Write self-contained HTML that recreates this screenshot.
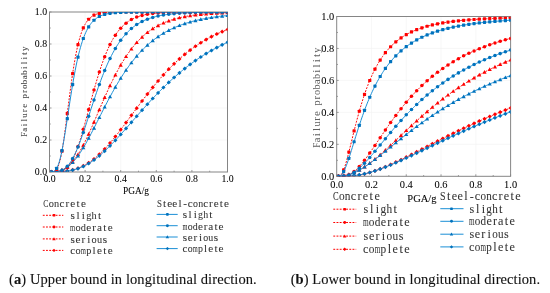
<!DOCTYPE html>
<html><head><meta charset="utf-8"><style>
html,body{margin:0;padding:0;background:#fff;}
body{width:550px;height:293px;overflow:hidden;position:relative;}
svg{position:absolute;left:0;top:0;}
.tk{font-family:"Liberation Serif",serif;fill:#000;stroke:#000;stroke-width:0.05;}
.lg{font-family:"Liberation Serif",serif;fill:#333;stroke:#333;stroke-width:0.06;}
.cap{font-family:"Liberation Serif",serif;font-size:14.5px;fill:#111;stroke:#111;stroke-width:0.1;}
.yl{font-family:"Liberation Serif",serif;fill:#4a4a4a;stroke:#4a4a4a;stroke-width:0.06;}
.yl2{font-family:"Liberation Serif",serif;fill:#606060;}
</style></head><body>
<svg width="550" height="293" viewBox="0 0 550 293">
<line x1="85.10" y1="12.0" x2="85.10" y2="172.0" stroke="#f2f2f2" stroke-width="0.6"/>
<line x1="49.5" y1="140.00" x2="227.5" y2="140.00" stroke="#f2f2f2" stroke-width="0.6"/>
<line x1="120.70" y1="12.0" x2="120.70" y2="172.0" stroke="#f2f2f2" stroke-width="0.6"/>
<line x1="49.5" y1="108.00" x2="227.5" y2="108.00" stroke="#f2f2f2" stroke-width="0.6"/>
<line x1="156.30" y1="12.0" x2="156.30" y2="172.0" stroke="#f2f2f2" stroke-width="0.6"/>
<line x1="49.5" y1="76.00" x2="227.5" y2="76.00" stroke="#f2f2f2" stroke-width="0.6"/>
<line x1="191.90" y1="12.0" x2="191.90" y2="172.0" stroke="#f2f2f2" stroke-width="0.6"/>
<line x1="49.5" y1="44.00" x2="227.5" y2="44.00" stroke="#f2f2f2" stroke-width="0.6"/>
<rect x="49.5" y="12.0" width="178.00" height="160.00" fill="none" stroke="#858585" stroke-width="1"/>
<clipPath id="c49"><rect x="49.5" y="12.0" width="178.00" height="160.00"/></clipPath><g clip-path="url(#c49)">
<polyline points="51.28,171.95 52.17,171.93 53.05,171.92 53.94,171.90 54.82,171.88 55.71,171.85 56.59,171.82 57.48,171.79 58.36,171.75 59.25,171.70 60.14,171.65 61.02,171.59 61.91,171.52 62.79,171.45 63.68,171.36 64.56,171.27 65.45,171.17 66.33,171.05 67.22,170.93 68.11,170.79 68.99,170.64 69.88,170.48 70.76,170.30 71.65,170.11 72.53,169.90 73.42,169.68 74.30,169.44 75.19,169.18 76.07,168.91 76.96,168.62 77.85,168.30 78.73,167.97 79.62,167.62 80.50,167.25 81.39,166.86 82.27,166.45 83.16,166.02 84.04,165.57 84.93,165.10 85.82,164.60 86.70,164.08 87.59,163.54 88.47,162.98 89.36,162.40 90.24,161.79 91.13,161.17 92.01,160.52 92.90,159.85 93.79,159.16 94.67,158.44 95.56,157.71 96.44,156.95 97.33,156.17 98.21,155.38 99.10,154.56 99.98,153.72 100.87,152.87 101.76,151.99 102.64,151.10 103.53,150.19 104.41,149.26 105.30,148.31 106.18,147.35 107.07,146.37 107.95,145.38 108.84,144.37 109.72,143.34 110.61,142.30 111.50,141.25 112.38,140.19 113.27,139.11 114.15,138.02 115.04,136.92 115.92,135.81 116.81,134.70 117.69,133.57 118.58,132.43 119.47,131.28 120.35,130.13 121.24,128.97 122.12,127.80 123.01,126.63 123.89,125.45 124.78,124.27 125.66,123.09 126.55,121.90 127.44,120.70 128.32,119.51 129.21,118.31 130.09,117.11 130.98,115.92 131.86,114.72 132.75,113.52 133.63,112.32 134.52,111.12 135.41,109.93 136.29,108.73 137.18,107.54 138.06,106.35 138.95,105.17 139.83,103.98 140.72,102.81 141.60,101.63 142.49,100.46 143.37,99.30 144.26,98.14 145.15,96.99 146.03,95.84 146.92,94.70 147.80,93.57 148.69,92.44 149.57,91.32 150.46,90.21 151.34,89.11 152.23,88.01 153.12,86.92 154.00,85.84 154.89,84.77 155.77,83.71 156.66,82.65 157.54,81.61 158.43,80.57 159.31,79.55 160.20,78.53 161.09,77.52 161.97,76.52 162.86,75.53 163.74,74.56 164.63,73.59 165.51,72.63 166.40,71.68 167.28,70.74 168.17,69.82 169.06,68.90 169.94,67.99 170.83,67.09 171.71,66.21 172.60,65.33 173.48,64.47 174.37,63.61 175.25,62.77 176.14,61.93 177.02,61.11 177.91,60.30 178.80,59.49 179.68,58.70 180.57,57.92 181.45,57.15 182.34,56.38 183.22,55.63 184.11,54.89 184.99,54.16 185.88,53.44 186.77,52.73 187.65,52.03 188.54,51.34 189.42,50.66 190.31,49.98 191.19,49.32 192.08,48.67 192.96,48.03 193.85,47.40 194.74,46.77 195.62,46.16 196.51,45.55 197.39,44.96 198.28,44.37 199.16,43.80 200.05,43.23 200.93,42.67 201.82,42.12 202.71,41.57 203.59,41.04 204.48,40.52 205.36,40.00 206.25,39.49 207.13,38.99 208.02,38.50 208.90,38.01 209.79,37.54 210.67,37.07 211.56,36.61 212.45,36.16 213.33,35.71 214.22,35.27 215.10,34.84 215.99,34.42 216.87,34.00 217.76,33.59 218.64,33.19 219.53,32.80 220.42,32.41 221.30,32.03 222.19,31.65 223.07,31.28 223.96,30.92 224.84,30.57 225.73,30.22 226.61,29.87 227.50,29.53" fill="none" stroke="#ff0000" stroke-width="1.0" stroke-dasharray="1.9 1.3"/>
<path d="M51.28 169.86L53.37 171.95L51.28 174.04L49.19 171.95Z" fill="#ff0000"/>
<path d="M56.62 169.73L58.71 171.82L56.62 173.91L54.53 171.82Z" fill="#ff0000"/>
<path d="M61.96 169.43L64.05 171.52L61.96 173.61L59.87 171.52Z" fill="#ff0000"/>
<path d="M67.30 168.83L69.39 170.92L67.30 173.01L65.21 170.92Z" fill="#ff0000"/>
<path d="M72.64 167.79L74.73 169.88L72.64 171.97L70.55 169.88Z" fill="#ff0000"/>
<path d="M77.98 166.17L80.07 168.26L77.98 170.35L75.89 168.26Z" fill="#ff0000"/>
<path d="M83.32 163.85L85.41 165.94L83.32 168.03L81.23 165.94Z" fill="#ff0000"/>
<path d="M88.66 160.77L90.75 162.86L88.66 164.95L86.57 162.86Z" fill="#ff0000"/>
<path d="M94.00 156.89L96.09 158.98L94.00 161.07L91.91 158.98Z" fill="#ff0000"/>
<path d="M99.34 152.25L101.43 154.34L99.34 156.43L97.25 154.34Z" fill="#ff0000"/>
<path d="M104.68 146.88L106.77 148.97L104.68 151.06L102.59 148.97Z" fill="#ff0000"/>
<path d="M110.02 140.91L112.11 143.00L110.02 145.09L107.93 143.00Z" fill="#ff0000"/>
<path d="M115.36 134.43L117.45 136.52L115.36 138.61L113.27 136.52Z" fill="#ff0000"/>
<path d="M120.70 127.58L122.79 129.67L120.70 131.76L118.61 129.67Z" fill="#ff0000"/>
<path d="M126.04 120.49L128.13 122.58L126.04 124.67L123.95 122.58Z" fill="#ff0000"/>
<path d="M131.38 113.28L133.47 115.37L131.38 117.46L129.29 115.37Z" fill="#ff0000"/>
<path d="M136.72 106.06L138.81 108.15L136.72 110.24L134.63 108.15Z" fill="#ff0000"/>
<path d="M142.06 98.94L144.15 101.03L142.06 103.12L139.97 101.03Z" fill="#ff0000"/>
<path d="M147.40 91.99L149.49 94.08L147.40 96.17L145.31 94.08Z" fill="#ff0000"/>
<path d="M152.74 85.29L154.83 87.38L152.74 89.47L150.65 87.38Z" fill="#ff0000"/>
<path d="M158.08 78.89L160.17 80.98L158.08 83.07L155.99 80.98Z" fill="#ff0000"/>
<path d="M163.42 72.82L165.51 74.91L163.42 77.00L161.33 74.91Z" fill="#ff0000"/>
<path d="M168.76 67.11L170.85 69.20L168.76 71.29L166.67 69.20Z" fill="#ff0000"/>
<path d="M174.10 61.78L176.19 63.87L174.10 65.96L172.01 63.87Z" fill="#ff0000"/>
<path d="M179.44 56.83L181.53 58.92L179.44 61.01L177.35 58.92Z" fill="#ff0000"/>
<path d="M184.78 52.25L186.87 54.34L184.78 56.43L182.69 54.34Z" fill="#ff0000"/>
<path d="M190.12 48.04L192.21 50.13L190.12 52.22L188.03 50.13Z" fill="#ff0000"/>
<path d="M195.46 44.18L197.55 46.27L195.46 48.36L193.37 46.27Z" fill="#ff0000"/>
<path d="M200.80 40.66L202.89 42.75L200.80 44.84L198.71 42.75Z" fill="#ff0000"/>
<path d="M206.14 37.46L208.23 39.55L206.14 41.64L204.05 39.55Z" fill="#ff0000"/>
<path d="M211.48 34.56L213.57 36.65L211.48 38.74L209.39 36.65Z" fill="#ff0000"/>
<path d="M216.82 31.94L218.91 34.03L216.82 36.12L214.73 34.03Z" fill="#ff0000"/>
<path d="M222.16 29.57L224.25 31.66L222.16 33.75L220.07 31.66Z" fill="#ff0000"/>
<path d="M227.50 27.44L229.59 29.53L227.50 31.62L225.41 29.53Z" fill="#ff0000"/>
<polyline points="51.28,171.98 52.17,171.97 53.05,171.96 53.94,171.95 54.82,171.94 55.71,171.92 56.59,171.90 57.48,171.87 58.36,171.84 59.25,171.80 60.14,171.76 61.02,171.71 61.91,171.65 62.79,171.59 63.68,171.51 64.56,171.43 65.45,171.34 66.33,171.23 67.22,171.12 68.11,170.99 68.99,170.85 69.88,170.69 70.76,170.53 71.65,170.35 72.53,170.15 73.42,169.94 74.30,169.71 75.19,169.46 76.07,169.20 76.96,168.92 77.85,168.63 78.73,168.31 79.62,167.98 80.50,167.63 81.39,167.26 82.27,166.87 83.16,166.47 84.04,166.04 84.93,165.60 85.82,165.13 86.70,164.65 87.59,164.15 88.47,163.63 89.36,163.09 90.24,162.54 91.13,161.96 92.01,161.37 92.90,160.76 93.79,160.13 94.67,159.48 95.56,158.82 96.44,158.14 97.33,157.44 98.21,156.73 99.10,156.00 99.98,155.26 100.87,154.50 101.76,153.72 102.64,152.93 103.53,152.13 104.41,151.32 105.30,150.49 106.18,149.65 107.07,148.79 107.95,147.93 108.84,147.05 109.72,146.17 110.61,145.27 111.50,144.36 112.38,143.45 113.27,142.52 114.15,141.59 115.04,140.65 115.92,139.70 116.81,138.74 117.69,137.78 118.58,136.81 119.47,135.83 120.35,134.85 121.24,133.87 122.12,132.88 123.01,131.88 123.89,130.89 124.78,129.88 125.66,128.88 126.55,127.87 127.44,126.87 128.32,125.86 129.21,124.84 130.09,123.83 130.98,122.82 131.86,121.80 132.75,120.79 133.63,119.77 134.52,118.76 135.41,117.75 136.29,116.74 137.18,115.73 138.06,114.72 138.95,113.71 139.83,112.71 140.72,111.71 141.60,110.71 142.49,109.72 143.37,108.72 144.26,107.73 145.15,106.75 146.03,105.77 146.92,104.79 147.80,103.82 148.69,102.85 149.57,101.89 150.46,100.93 151.34,99.97 152.23,99.02 153.12,98.08 154.00,97.14 154.89,96.21 155.77,95.28 156.66,94.36 157.54,93.44 158.43,92.53 159.31,91.63 160.20,90.73 161.09,89.84 161.97,88.96 162.86,88.08 163.74,87.21 164.63,86.34 165.51,85.49 166.40,84.63 167.28,83.79 168.17,82.95 169.06,82.12 169.94,81.30 170.83,80.48 171.71,79.67 172.60,78.86 173.48,78.07 174.37,77.28 175.25,76.50 176.14,75.72 177.02,74.95 177.91,74.19 178.80,73.44 179.68,72.69 180.57,71.95 181.45,71.22 182.34,70.50 183.22,69.78 184.11,69.07 184.99,68.37 185.88,67.67 186.77,66.98 187.65,66.30 188.54,65.62 189.42,64.95 190.31,64.29 191.19,63.64 192.08,62.99 192.96,62.35 193.85,61.72 194.74,61.09 195.62,60.47 196.51,59.86 197.39,59.25 198.28,58.65 199.16,58.06 200.05,57.47 200.93,56.89 201.82,56.32 202.71,55.75 203.59,55.19 204.48,54.64 205.36,54.09 206.25,53.55 207.13,53.02 208.02,52.49 208.90,51.97 209.79,51.45 210.67,50.94 211.56,50.44 212.45,49.94 213.33,49.45 214.22,48.96 215.10,48.48 215.99,48.00 216.87,47.54 217.76,47.07 218.64,46.61 219.53,46.16 220.42,45.72 221.30,45.28 222.19,44.84 223.07,44.41 223.96,43.98 224.84,43.57 225.73,43.15 226.61,42.74 227.50,42.34" fill="none" stroke="#1b8fd6" stroke-width="1.0"/>
<path d="M51.28 169.89L53.37 171.98L51.28 174.07L49.19 171.98Z" fill="#0072bd"/>
<path d="M56.62 169.81L58.71 171.90L56.62 173.99L54.53 171.90Z" fill="#0072bd"/>
<path d="M61.96 169.56L64.05 171.65L61.96 173.74L59.87 171.65Z" fill="#0072bd"/>
<path d="M67.30 169.02L69.39 171.11L67.30 173.20L65.21 171.11Z" fill="#0072bd"/>
<path d="M72.64 168.03L74.73 170.12L72.64 172.21L70.55 170.12Z" fill="#0072bd"/>
<path d="M77.98 166.49L80.07 168.58L77.98 170.67L75.89 168.58Z" fill="#0072bd"/>
<path d="M83.32 164.30L85.41 166.39L83.32 168.48L81.23 166.39Z" fill="#0072bd"/>
<path d="M88.66 161.43L90.75 163.52L88.66 165.61L86.57 163.52Z" fill="#0072bd"/>
<path d="M94.00 157.88L96.09 159.97L94.00 162.06L91.91 159.97Z" fill="#0072bd"/>
<path d="M99.34 153.71L101.43 155.80L99.34 157.89L97.25 155.80Z" fill="#0072bd"/>
<path d="M104.68 148.98L106.77 151.07L104.68 153.16L102.59 151.07Z" fill="#0072bd"/>
<path d="M110.02 143.78L112.11 145.87L110.02 147.96L107.93 145.87Z" fill="#0072bd"/>
<path d="M115.36 138.21L117.45 140.30L115.36 142.39L113.27 140.30Z" fill="#0072bd"/>
<path d="M120.70 132.37L122.79 134.46L120.70 136.55L118.61 134.46Z" fill="#0072bd"/>
<path d="M126.04 126.36L128.13 128.45L126.04 130.54L123.95 128.45Z" fill="#0072bd"/>
<path d="M131.38 120.27L133.47 122.36L131.38 124.45L129.29 122.36Z" fill="#0072bd"/>
<path d="M136.72 114.16L138.81 116.25L136.72 118.34L134.63 116.25Z" fill="#0072bd"/>
<path d="M142.06 108.11L144.15 110.20L142.06 112.29L139.97 110.20Z" fill="#0072bd"/>
<path d="M147.40 102.17L149.49 104.26L147.40 106.35L145.31 104.26Z" fill="#0072bd"/>
<path d="M152.74 96.39L154.83 98.48L152.74 100.57L150.65 98.48Z" fill="#0072bd"/>
<path d="M158.08 90.80L160.17 92.89L158.08 94.98L155.99 92.89Z" fill="#0072bd"/>
<path d="M163.42 85.43L165.51 87.52L163.42 89.61L161.33 87.52Z" fill="#0072bd"/>
<path d="M168.76 80.31L170.85 82.40L168.76 84.49L166.67 82.40Z" fill="#0072bd"/>
<path d="M174.10 75.43L176.19 77.52L174.10 79.61L172.01 77.52Z" fill="#0072bd"/>
<path d="M179.44 70.81L181.53 72.90L179.44 74.99L177.35 72.90Z" fill="#0072bd"/>
<path d="M184.78 66.45L186.87 68.54L184.78 70.63L182.69 68.54Z" fill="#0072bd"/>
<path d="M190.12 62.34L192.21 64.43L190.12 66.52L188.03 64.43Z" fill="#0072bd"/>
<path d="M195.46 58.49L197.55 60.58L195.46 62.67L193.37 60.58Z" fill="#0072bd"/>
<path d="M200.80 54.89L202.89 56.98L200.80 59.07L198.71 56.98Z" fill="#0072bd"/>
<path d="M206.14 51.53L208.23 53.62L206.14 55.71L204.05 53.62Z" fill="#0072bd"/>
<path d="M211.48 48.39L213.57 50.48L211.48 52.57L209.39 50.48Z" fill="#0072bd"/>
<path d="M216.82 45.47L218.91 47.56L216.82 49.65L214.73 47.56Z" fill="#0072bd"/>
<path d="M222.16 42.76L224.25 44.85L222.16 46.94L220.07 44.85Z" fill="#0072bd"/>
<path d="M227.50 40.25L229.59 42.34L227.50 44.43L225.41 42.34Z" fill="#0072bd"/>
<polyline points="51.28,171.87 52.17,171.82 53.05,171.76 53.94,171.69 54.82,171.60 55.71,171.49 56.59,171.35 57.48,171.20 58.36,171.01 59.25,170.79 60.14,170.54 61.02,170.25 61.91,169.92 62.79,169.55 63.68,169.13 64.56,168.66 65.45,168.14 66.33,167.57 67.22,166.94 68.11,166.26 68.99,165.51 69.88,164.71 70.76,163.84 71.65,162.92 72.53,161.93 73.42,160.87 74.30,159.76 75.19,158.58 76.07,157.35 76.96,156.05 77.85,154.69 78.73,153.28 79.62,151.81 80.50,150.28 81.39,148.70 82.27,147.08 83.16,145.40 84.04,143.68 84.93,141.92 85.82,140.12 86.70,138.28 87.59,136.41 88.47,134.50 89.36,132.57 90.24,130.61 91.13,128.63 92.01,126.62 92.90,124.60 93.79,122.57 94.67,120.53 95.56,118.47 96.44,116.41 97.33,114.35 98.21,112.28 99.10,110.22 99.98,108.16 100.87,106.11 101.76,104.06 102.64,102.03 103.53,100.01 104.41,98.00 105.30,96.00 106.18,94.03 107.07,92.07 107.95,90.13 108.84,88.22 109.72,86.33 110.61,84.46 111.50,82.62 112.38,80.80 113.27,79.01 114.15,77.25 115.04,75.51 115.92,73.81 116.81,72.13 117.69,70.49 118.58,68.87 119.47,67.29 120.35,65.74 121.24,64.21 122.12,62.72 123.01,61.26 123.89,59.83 124.78,58.44 125.66,57.07 126.55,55.73 127.44,54.43 128.32,53.16 129.21,51.91 130.09,50.70 130.98,49.52 131.86,48.37 132.75,47.24 133.63,46.15 134.52,45.08 135.41,44.04 136.29,43.03 137.18,42.05 138.06,41.10 138.95,40.17 139.83,39.26 140.72,38.38 141.60,37.53 142.49,36.70 143.37,35.89 144.26,35.11 145.15,34.35 146.03,33.62 146.92,32.90 147.80,32.21 148.69,31.54 149.57,30.88 150.46,30.25 151.34,29.64 152.23,29.05 153.12,28.47 154.00,27.91 154.89,27.37 155.77,26.85 156.66,26.34 157.54,25.85 158.43,25.38 159.31,24.92 160.20,24.48 161.09,24.05 161.97,23.63 162.86,23.23 163.74,22.84 164.63,22.46 165.51,22.10 166.40,21.75 167.28,21.41 168.17,21.08 169.06,20.76 169.94,20.46 170.83,20.16 171.71,19.87 172.60,19.60 173.48,19.33 174.37,19.07 175.25,18.82 176.14,18.58 177.02,18.35 177.91,18.12 178.80,17.91 179.68,17.70 180.57,17.49 181.45,17.30 182.34,17.11 183.22,16.93 184.11,16.75 184.99,16.58 185.88,16.42 186.77,16.26 187.65,16.11 188.54,15.96 189.42,15.82 190.31,15.69 191.19,15.55 192.08,15.43 192.96,15.30 193.85,15.19 194.74,15.07 195.62,14.96 196.51,14.86 197.39,14.75 198.28,14.66 199.16,14.56 200.05,14.47 200.93,14.38 201.82,14.29 202.71,14.21 203.59,14.13 204.48,14.06 205.36,13.98 206.25,13.91 207.13,13.84 208.02,13.78 208.90,13.71 209.79,13.65 210.67,13.59 211.56,13.53 212.45,13.48 213.33,13.43 214.22,13.38 215.10,13.33 215.99,13.28 216.87,13.23 217.76,13.19 218.64,13.15 219.53,13.10 220.42,13.07 221.30,13.03 222.19,12.99 223.07,12.95 223.96,12.92 224.84,12.89 225.73,12.86 226.61,12.83 227.50,12.80" fill="none" stroke="#ff0000" stroke-width="1.0" stroke-dasharray="1.9 1.3"/>
<path d="M51.28 169.78L53.37 173.43L49.19 173.43Z" fill="#ff0000"/>
<path d="M56.62 169.26L58.71 172.92L54.53 172.92Z" fill="#ff0000"/>
<path d="M61.96 167.81L64.05 171.47L59.87 171.47Z" fill="#ff0000"/>
<path d="M67.30 164.79L69.39 168.45L65.21 168.45Z" fill="#ff0000"/>
<path d="M72.64 159.71L74.73 163.37L70.55 163.37Z" fill="#ff0000"/>
<path d="M77.98 152.39L80.07 156.05L75.89 156.05Z" fill="#ff0000"/>
<path d="M83.32 143.00L85.41 146.66L81.23 146.66Z" fill="#ff0000"/>
<path d="M88.66 132.00L90.75 135.66L86.57 135.66Z" fill="#ff0000"/>
<path d="M94.00 119.99L96.09 123.64L91.91 123.64Z" fill="#ff0000"/>
<path d="M99.34 107.57L101.43 111.23L97.25 111.23Z" fill="#ff0000"/>
<path d="M104.68 95.30L106.77 98.96L102.59 98.96Z" fill="#ff0000"/>
<path d="M110.02 83.61L112.11 87.27L107.93 87.27Z" fill="#ff0000"/>
<path d="M115.36 72.80L117.45 76.46L113.27 76.46Z" fill="#ff0000"/>
<path d="M120.70 63.04L122.79 66.70L118.61 66.70Z" fill="#ff0000"/>
<path d="M126.04 54.41L128.13 58.07L123.95 58.07Z" fill="#ff0000"/>
<path d="M131.38 46.90L133.47 50.56L129.29 50.56Z" fill="#ff0000"/>
<path d="M136.72 40.46L138.81 44.12L134.63 44.12Z" fill="#ff0000"/>
<path d="M142.06 35.01L144.15 38.67L139.97 38.67Z" fill="#ff0000"/>
<path d="M147.40 30.43L149.49 34.09L145.31 34.09Z" fill="#ff0000"/>
<path d="M152.74 26.62L154.83 30.28L150.65 30.28Z" fill="#ff0000"/>
<path d="M158.08 23.47L160.17 27.13L155.99 27.13Z" fill="#ff0000"/>
<path d="M163.42 20.89L165.51 24.55L161.33 24.55Z" fill="#ff0000"/>
<path d="M168.76 18.78L170.85 22.43L166.67 22.43Z" fill="#ff0000"/>
<path d="M174.10 17.06L176.19 20.71L172.01 20.71Z" fill="#ff0000"/>
<path d="M179.44 15.66L181.53 19.32L177.35 19.32Z" fill="#ff0000"/>
<path d="M184.78 14.53L186.87 18.19L182.69 18.19Z" fill="#ff0000"/>
<path d="M190.12 13.62L192.21 17.28L188.03 17.28Z" fill="#ff0000"/>
<path d="M195.46 12.89L197.55 16.55L193.37 16.55Z" fill="#ff0000"/>
<path d="M200.80 12.30L202.89 15.96L198.71 15.96Z" fill="#ff0000"/>
<path d="M206.14 11.83L208.23 15.49L204.05 15.49Z" fill="#ff0000"/>
<path d="M211.48 11.45L213.57 15.11L209.39 15.11Z" fill="#ff0000"/>
<path d="M216.82 11.15L218.91 14.80L214.73 14.80Z" fill="#ff0000"/>
<path d="M222.16 10.90L224.25 14.56L220.07 14.56Z" fill="#ff0000"/>
<path d="M227.50 10.71L229.59 14.36L225.41 14.36Z" fill="#ff0000"/>
<polyline points="51.28,171.91 52.17,171.88 53.05,171.83 53.94,171.76 54.82,171.68 55.71,171.58 56.59,171.46 57.48,171.31 58.36,171.14 59.25,170.93 60.14,170.69 61.02,170.42 61.91,170.10 62.79,169.75 63.68,169.35 64.56,168.91 65.45,168.42 66.33,167.88 67.22,167.29 68.11,166.64 68.99,165.95 69.88,165.21 70.76,164.41 71.65,163.56 72.53,162.65 73.42,161.70 74.30,160.69 75.19,159.63 76.07,158.52 76.96,157.36 77.85,156.16 78.73,154.91 79.62,153.61 80.50,152.27 81.39,150.89 82.27,149.48 83.16,148.02 84.04,146.54 84.93,145.01 85.82,143.46 86.70,141.88 87.59,140.28 88.47,138.65 89.36,137.00 90.24,135.32 91.13,133.64 92.01,131.93 92.90,130.21 93.79,128.48 94.67,126.74 95.56,125.00 96.44,123.24 97.33,121.49 98.21,119.73 99.10,117.97 99.98,116.21 100.87,114.46 101.76,112.71 102.64,110.96 103.53,109.22 104.41,107.49 105.30,105.77 106.18,104.06 107.07,102.36 107.95,100.67 108.84,99.00 109.72,97.34 110.61,95.70 111.50,94.07 112.38,92.46 113.27,90.87 114.15,89.29 115.04,87.74 115.92,86.20 116.81,84.68 117.69,83.18 118.58,81.70 119.47,80.25 120.35,78.81 121.24,77.39 122.12,76.00 123.01,74.63 123.89,73.27 124.78,71.94 125.66,70.64 126.55,69.35 127.44,68.09 128.32,66.84 129.21,65.62 130.09,64.42 130.98,63.25 131.86,62.09 132.75,60.96 133.63,59.84 134.52,58.75 135.41,57.68 136.29,56.63 137.18,55.60 138.06,54.59 138.95,53.60 139.83,52.64 140.72,51.69 141.60,50.76 142.49,49.85 143.37,48.95 144.26,48.08 145.15,47.23 146.03,46.39 146.92,45.57 147.80,44.77 148.69,43.99 149.57,43.23 150.46,42.48 151.34,41.75 152.23,41.03 153.12,40.33 154.00,39.65 154.89,38.98 155.77,38.32 156.66,37.69 157.54,37.06 158.43,36.45 159.31,35.86 160.20,35.27 161.09,34.71 161.97,34.15 162.86,33.61 163.74,33.08 164.63,32.56 165.51,32.06 166.40,31.57 167.28,31.09 168.17,30.62 169.06,30.16 169.94,29.71 170.83,29.27 171.71,28.85 172.60,28.43 173.48,28.03 174.37,27.63 175.25,27.25 176.14,26.87 177.02,26.50 177.91,26.14 178.80,25.79 179.68,25.45 180.57,25.12 181.45,24.79 182.34,24.48 183.22,24.17 184.11,23.87 184.99,23.57 185.88,23.29 186.77,23.01 187.65,22.73 188.54,22.47 189.42,22.21 190.31,21.95 191.19,21.71 192.08,21.47 192.96,21.23 193.85,21.00 194.74,20.78 195.62,20.56 196.51,20.35 197.39,20.15 198.28,19.94 199.16,19.75 200.05,19.56 200.93,19.37 201.82,19.19 202.71,19.01 203.59,18.84 204.48,18.67 205.36,18.50 206.25,18.34 207.13,18.19 208.02,18.03 208.90,17.89 209.79,17.74 210.67,17.60 211.56,17.46 212.45,17.33 213.33,17.20 214.22,17.07 215.10,16.94 215.99,16.82 216.87,16.70 217.76,16.59 218.64,16.48 219.53,16.37 220.42,16.26 221.30,16.16 222.19,16.05 223.07,15.96 223.96,15.86 224.84,15.77 225.73,15.67 226.61,15.58 227.50,15.50" fill="none" stroke="#1b8fd6" stroke-width="1.0"/>
<path d="M51.28 169.82L53.37 173.48L49.19 173.48Z" fill="#0072bd"/>
<path d="M56.62 169.37L58.71 173.02L54.53 173.02Z" fill="#0072bd"/>
<path d="M61.96 167.99L64.05 171.65L59.87 171.65Z" fill="#0072bd"/>
<path d="M67.30 165.14L69.39 168.80L65.21 168.80Z" fill="#0072bd"/>
<path d="M72.64 160.45L74.73 164.11L70.55 164.11Z" fill="#0072bd"/>
<path d="M77.98 153.88L80.07 157.54L75.89 157.54Z" fill="#0072bd"/>
<path d="M83.32 145.67L85.41 149.32L81.23 149.32Z" fill="#0072bd"/>
<path d="M88.66 136.21L90.75 139.87L86.57 139.87Z" fill="#0072bd"/>
<path d="M94.00 125.97L96.09 129.63L91.91 129.63Z" fill="#0072bd"/>
<path d="M99.34 115.40L101.43 119.06L97.25 119.06Z" fill="#0072bd"/>
<path d="M104.68 104.88L106.77 108.54L102.59 108.54Z" fill="#0072bd"/>
<path d="M110.02 94.70L112.11 98.36L107.93 98.36Z" fill="#0072bd"/>
<path d="M115.36 85.08L117.45 88.74L113.27 88.74Z" fill="#0072bd"/>
<path d="M120.70 76.16L122.79 79.82L118.61 79.82Z" fill="#0072bd"/>
<path d="M126.04 68.00L128.13 71.66L123.95 71.66Z" fill="#0072bd"/>
<path d="M131.38 60.63L133.47 64.29L129.29 64.29Z" fill="#0072bd"/>
<path d="M136.72 54.04L138.81 57.70L134.63 57.70Z" fill="#0072bd"/>
<path d="M142.06 48.20L144.15 51.85L139.97 51.85Z" fill="#0072bd"/>
<path d="M147.40 43.05L149.49 46.70L145.31 46.70Z" fill="#0072bd"/>
<path d="M152.74 38.54L154.83 42.19L150.65 42.19Z" fill="#0072bd"/>
<path d="M158.08 34.60L160.17 38.26L155.99 38.26Z" fill="#0072bd"/>
<path d="M163.42 31.18L165.51 34.84L161.33 34.84Z" fill="#0072bd"/>
<path d="M168.76 28.22L170.85 31.88L166.67 31.88Z" fill="#0072bd"/>
<path d="M174.10 25.66L176.19 29.32L172.01 29.32Z" fill="#0072bd"/>
<path d="M179.44 23.45L181.53 27.11L177.35 27.11Z" fill="#0072bd"/>
<path d="M184.78 21.55L186.87 25.21L182.69 25.21Z" fill="#0072bd"/>
<path d="M190.12 19.92L192.21 23.58L188.03 23.58Z" fill="#0072bd"/>
<path d="M195.46 18.51L197.55 22.17L193.37 22.17Z" fill="#0072bd"/>
<path d="M200.80 17.31L202.89 20.96L198.71 20.96Z" fill="#0072bd"/>
<path d="M206.14 16.27L208.23 19.93L204.05 19.93Z" fill="#0072bd"/>
<path d="M211.48 15.38L213.57 19.04L209.39 19.04Z" fill="#0072bd"/>
<path d="M216.82 14.62L218.91 18.28L214.73 18.28Z" fill="#0072bd"/>
<path d="M222.16 13.97L224.25 17.63L220.07 17.63Z" fill="#0072bd"/>
<path d="M227.50 13.41L229.59 17.06L225.41 17.06Z" fill="#0072bd"/>
<polyline points="51.28,171.99 52.17,171.99 53.05,171.98 53.94,171.97 54.82,171.94 55.71,171.91 56.59,171.86 57.48,171.80 58.36,171.70 59.25,171.58 60.14,171.41 61.02,171.20 61.91,170.93 62.79,170.59 63.68,170.18 64.56,169.68 65.45,169.08 66.33,168.37 67.22,167.56 68.11,166.61 68.99,165.54 69.88,164.33 70.76,162.98 71.65,161.49 72.53,159.85 73.42,158.06 74.30,156.12 75.19,154.04 76.07,151.82 76.96,149.46 77.85,146.97 78.73,144.36 79.62,141.63 80.50,138.80 81.39,135.87 82.27,132.86 83.16,129.77 84.04,126.61 84.93,123.41 85.82,120.16 86.70,116.87 87.59,113.57 88.47,110.26 89.36,106.94 90.24,103.63 91.13,100.34 92.01,97.08 92.90,93.85 93.79,90.66 94.67,87.52 95.56,84.44 96.44,81.41 97.33,78.45 98.21,75.55 99.10,72.73 99.98,69.99 100.87,67.32 101.76,64.73 102.64,62.22 103.53,59.80 104.41,57.45 105.30,55.20 106.18,53.02 107.07,50.93 107.95,48.92 108.84,46.99 109.72,45.14 110.61,43.37 111.50,41.68 112.38,40.06 113.27,38.52 114.15,37.05 115.04,35.65 115.92,34.31 116.81,33.04 117.69,31.84 118.58,30.69 119.47,29.60 120.35,28.57 121.24,27.59 122.12,26.67 123.01,25.79 123.89,24.97 124.78,24.18 125.66,23.44 126.55,22.75 127.44,22.09 128.32,21.47 129.21,20.88 130.09,20.33 130.98,19.81 131.86,19.32 132.75,18.86 133.63,18.43 134.52,18.02 135.41,17.64 136.29,17.28 137.18,16.94 138.06,16.63 138.95,16.33 139.83,16.05 140.72,15.79 141.60,15.54 142.49,15.31 143.37,15.10 144.26,14.89 145.15,14.71 146.03,14.53 146.92,14.36 147.80,14.21 148.69,14.06 149.57,13.93 150.46,13.80 151.34,13.68 152.23,13.57 153.12,13.46 154.00,13.37 154.89,13.28 155.77,13.19 156.66,13.11 157.54,13.04 158.43,12.97 159.31,12.90 160.20,12.84 161.09,12.79 161.97,12.73 162.86,12.69 163.74,12.64 164.63,12.60 165.51,12.56 166.40,12.52 167.28,12.48 168.17,12.45 169.06,12.42 169.94,12.39 170.83,12.37 171.71,12.34 172.60,12.32 173.48,12.30 174.37,12.28 175.25,12.26 176.14,12.24 177.02,12.22 177.91,12.21 178.80,12.20 179.68,12.18 180.57,12.17 181.45,12.16 182.34,12.15 183.22,12.14 184.11,12.13 184.99,12.12 185.88,12.11 186.77,12.10 187.65,12.10 188.54,12.09 189.42,12.08 190.31,12.08 191.19,12.07 192.08,12.07 192.96,12.06 193.85,12.06 194.74,12.06 195.62,12.05 196.51,12.05 197.39,12.05 198.28,12.04 199.16,12.04 200.05,12.04 200.93,12.03 201.82,12.03 202.71,12.03 203.59,12.03 204.48,12.03 205.36,12.02 206.25,12.02 207.13,12.02 208.02,12.02 208.90,12.02 209.79,12.02 210.67,12.02 211.56,12.02 212.45,12.01 213.33,12.01 214.22,12.01 215.10,12.01 215.99,12.01 216.87,12.01 217.76,12.01 218.64,12.01 219.53,12.01 220.42,12.01 221.30,12.01 222.19,12.01 223.07,12.01 223.96,12.01 224.84,12.01 225.73,12.01 226.61,12.00 227.50,12.00" fill="none" stroke="#ff0000" stroke-width="1.0" stroke-dasharray="1.9 1.3"/>
<circle cx="51.28" cy="171.99" r="1.76" fill="#ff0000"/>
<circle cx="56.62" cy="171.86" r="1.76" fill="#ff0000"/>
<circle cx="61.96" cy="170.91" r="1.76" fill="#ff0000"/>
<circle cx="67.30" cy="167.48" r="1.76" fill="#ff0000"/>
<circle cx="72.64" cy="159.64" r="1.76" fill="#ff0000"/>
<circle cx="77.98" cy="146.58" r="1.76" fill="#ff0000"/>
<circle cx="83.32" cy="129.20" r="1.76" fill="#ff0000"/>
<circle cx="88.66" cy="109.55" r="1.76" fill="#ff0000"/>
<circle cx="94.00" cy="89.90" r="1.76" fill="#ff0000"/>
<circle cx="99.34" cy="71.98" r="1.76" fill="#ff0000"/>
<circle cx="104.68" cy="56.76" r="1.76" fill="#ff0000"/>
<circle cx="110.02" cy="44.54" r="1.76" fill="#ff0000"/>
<circle cx="115.36" cy="35.15" r="1.76" fill="#ff0000"/>
<circle cx="120.70" cy="28.18" r="1.76" fill="#ff0000"/>
<circle cx="126.04" cy="23.14" r="1.76" fill="#ff0000"/>
<circle cx="131.38" cy="19.58" r="1.76" fill="#ff0000"/>
<circle cx="136.72" cy="17.11" r="1.76" fill="#ff0000"/>
<circle cx="142.06" cy="15.42" r="1.76" fill="#ff0000"/>
<circle cx="147.40" cy="14.28" r="1.76" fill="#ff0000"/>
<circle cx="152.74" cy="13.51" r="1.76" fill="#ff0000"/>
<circle cx="158.08" cy="13.00" r="1.76" fill="#ff0000"/>
<circle cx="163.42" cy="12.66" r="1.76" fill="#ff0000"/>
<circle cx="168.76" cy="12.43" r="1.76" fill="#ff0000"/>
<circle cx="174.10" cy="12.28" r="1.76" fill="#ff0000"/>
<circle cx="179.44" cy="12.19" r="1.76" fill="#ff0000"/>
<circle cx="184.78" cy="12.12" r="1.76" fill="#ff0000"/>
<circle cx="190.12" cy="12.08" r="1.76" fill="#ff0000"/>
<circle cx="195.46" cy="12.05" r="1.76" fill="#ff0000"/>
<circle cx="200.80" cy="12.03" r="1.76" fill="#ff0000"/>
<circle cx="206.14" cy="12.02" r="1.76" fill="#ff0000"/>
<circle cx="211.48" cy="12.02" r="1.76" fill="#ff0000"/>
<circle cx="216.82" cy="12.01" r="1.76" fill="#ff0000"/>
<circle cx="222.16" cy="12.01" r="1.76" fill="#ff0000"/>
<circle cx="227.50" cy="12.00" r="1.76" fill="#ff0000"/>
<polyline points="51.28,171.98 52.17,171.96 53.05,171.94 53.94,171.91 54.82,171.86 55.71,171.79 56.59,171.70 57.48,171.58 58.36,171.42 59.25,171.22 60.14,170.97 61.02,170.67 61.91,170.30 62.79,169.86 63.68,169.34 64.56,168.74 65.45,168.04 66.33,167.25 67.22,166.37 68.11,165.37 68.99,164.27 69.88,163.06 70.76,161.75 71.65,160.32 72.53,158.78 73.42,157.13 74.30,155.38 75.19,153.52 76.07,151.57 76.96,149.52 77.85,147.38 78.73,145.15 79.62,142.85 80.50,140.48 81.39,138.04 82.27,135.54 83.16,132.98 84.04,130.38 84.93,127.75 85.82,125.08 86.70,122.38 87.59,119.66 88.47,116.94 89.36,114.20 90.24,111.46 91.13,108.73 92.01,106.01 92.90,103.31 93.79,100.62 94.67,97.96 95.56,95.32 96.44,92.72 97.33,90.15 98.21,87.62 99.10,85.13 99.98,82.69 100.87,80.29 101.76,77.93 102.64,75.63 103.53,73.38 104.41,71.18 105.30,69.04 106.18,66.95 107.07,64.91 107.95,62.93 108.84,61.00 109.72,59.12 110.61,57.31 111.50,55.54 112.38,53.83 113.27,52.18 114.15,50.57 115.04,49.02 115.92,47.52 116.81,46.08 117.69,44.68 118.58,43.33 119.47,42.03 120.35,40.77 121.24,39.56 122.12,38.40 123.01,37.28 123.89,36.20 124.78,35.16 125.66,34.16 126.55,33.20 127.44,32.28 128.32,31.40 129.21,30.55 130.09,29.73 130.98,28.95 131.86,28.20 132.75,27.48 133.63,26.79 134.52,26.13 135.41,25.50 136.29,24.89 137.18,24.31 138.06,23.76 138.95,23.22 139.83,22.71 140.72,22.23 141.60,21.76 142.49,21.32 143.37,20.89 144.26,20.48 145.15,20.09 146.03,19.72 146.92,19.37 147.80,19.03 148.69,18.70 149.57,18.39 150.46,18.10 151.34,17.82 152.23,17.55 153.12,17.29 154.00,17.04 154.89,16.81 155.77,16.58 156.66,16.37 157.54,16.17 158.43,15.97 159.31,15.79 160.20,15.61 161.09,15.44 161.97,15.28 162.86,15.13 163.74,14.98 164.63,14.84 165.51,14.71 166.40,14.58 167.28,14.46 168.17,14.35 169.06,14.24 169.94,14.13 170.83,14.03 171.71,13.94 172.60,13.85 173.48,13.76 174.37,13.68 175.25,13.60 176.14,13.52 177.02,13.45 177.91,13.38 178.80,13.32 179.68,13.26 180.57,13.20 181.45,13.14 182.34,13.09 183.22,13.04 184.11,12.99 184.99,12.94 185.88,12.90 186.77,12.86 187.65,12.82 188.54,12.78 189.42,12.74 190.31,12.71 191.19,12.68 192.08,12.64 192.96,12.61 193.85,12.59 194.74,12.56 195.62,12.53 196.51,12.51 197.39,12.48 198.28,12.46 199.16,12.44 200.05,12.42 200.93,12.40 201.82,12.38 202.71,12.37 203.59,12.35 204.48,12.33 205.36,12.32 206.25,12.30 207.13,12.29 208.02,12.28 208.90,12.26 209.79,12.25 210.67,12.24 211.56,12.23 212.45,12.22 213.33,12.21 214.22,12.20 215.10,12.19 215.99,12.18 216.87,12.17 217.76,12.16 218.64,12.16 219.53,12.15 220.42,12.14 221.30,12.14 222.19,12.13 223.07,12.12 223.96,12.12 224.84,12.11 225.73,12.11 226.61,12.10 227.50,12.10" fill="none" stroke="#1b8fd6" stroke-width="1.0"/>
<circle cx="51.28" cy="171.98" r="1.76" fill="#0072bd"/>
<circle cx="56.62" cy="171.70" r="1.76" fill="#0072bd"/>
<circle cx="61.96" cy="170.27" r="1.76" fill="#0072bd"/>
<circle cx="67.30" cy="166.28" r="1.76" fill="#0072bd"/>
<circle cx="72.64" cy="158.58" r="1.76" fill="#0072bd"/>
<circle cx="77.98" cy="147.05" r="1.76" fill="#0072bd"/>
<circle cx="83.32" cy="132.51" r="1.76" fill="#0072bd"/>
<circle cx="88.66" cy="116.36" r="1.76" fill="#0072bd"/>
<circle cx="94.00" cy="99.97" r="1.76" fill="#0072bd"/>
<circle cx="99.34" cy="84.46" r="1.76" fill="#0072bd"/>
<circle cx="104.68" cy="70.53" r="1.76" fill="#0072bd"/>
<circle cx="110.02" cy="58.51" r="1.76" fill="#0072bd"/>
<circle cx="115.36" cy="48.47" r="1.76" fill="#0072bd"/>
<circle cx="120.70" cy="40.29" r="1.76" fill="#0072bd"/>
<circle cx="126.04" cy="33.75" r="1.76" fill="#0072bd"/>
<circle cx="131.38" cy="28.61" r="1.76" fill="#0072bd"/>
<circle cx="136.72" cy="24.61" r="1.76" fill="#0072bd"/>
<circle cx="142.06" cy="21.53" r="1.76" fill="#0072bd"/>
<circle cx="147.40" cy="19.18" r="1.76" fill="#0072bd"/>
<circle cx="152.74" cy="17.40" r="1.76" fill="#0072bd"/>
<circle cx="158.08" cy="16.05" r="1.76" fill="#0072bd"/>
<circle cx="163.42" cy="15.03" r="1.76" fill="#0072bd"/>
<circle cx="168.76" cy="14.27" r="1.76" fill="#0072bd"/>
<circle cx="174.10" cy="13.70" r="1.76" fill="#0072bd"/>
<circle cx="179.44" cy="13.27" r="1.76" fill="#0072bd"/>
<circle cx="184.78" cy="12.96" r="1.76" fill="#0072bd"/>
<circle cx="190.12" cy="12.72" r="1.76" fill="#0072bd"/>
<circle cx="195.46" cy="12.54" r="1.76" fill="#0072bd"/>
<circle cx="200.80" cy="12.40" r="1.76" fill="#0072bd"/>
<circle cx="206.14" cy="12.30" r="1.76" fill="#0072bd"/>
<circle cx="211.48" cy="12.23" r="1.76" fill="#0072bd"/>
<circle cx="216.82" cy="12.17" r="1.76" fill="#0072bd"/>
<circle cx="222.16" cy="12.13" r="1.76" fill="#0072bd"/>
<circle cx="227.50" cy="12.10" r="1.76" fill="#0072bd"/>
<polyline points="51.28,171.98 52.17,171.93 53.05,171.82 53.94,171.59 54.82,171.19 55.71,170.51 56.59,169.47 57.48,167.98 58.36,165.94 59.25,163.29 60.14,160.00 61.02,156.04 61.91,151.44 62.79,146.23 63.68,140.50 64.56,134.32 65.45,127.79 66.33,121.01 67.22,114.08 68.11,107.11 68.99,100.19 69.88,93.38 70.76,86.77 71.65,80.41 72.53,74.35 73.42,68.61 74.30,63.21 75.19,58.19 76.07,53.52 76.96,49.22 77.85,45.28 78.73,41.68 79.62,38.41 80.50,35.44 81.39,32.77 82.27,30.37 83.16,28.22 84.04,26.30 84.93,24.58 85.82,23.06 86.70,21.71 87.59,20.51 88.47,19.45 89.36,18.52 90.24,17.70 91.13,16.98 92.01,16.35 92.90,15.79 93.79,15.30 94.67,14.88 95.56,14.51 96.44,14.18 97.33,13.90 98.21,13.65 99.10,13.43 99.98,13.25 100.87,13.08 101.76,12.94 102.64,12.82 103.53,12.71 104.41,12.62 105.30,12.53 106.18,12.46 107.07,12.40 107.95,12.35 108.84,12.30 109.72,12.26 110.61,12.23 111.50,12.20 112.38,12.17 113.27,12.15 114.15,12.13 115.04,12.11 115.92,12.10 116.81,12.09 117.69,12.07 118.58,12.06 119.47,12.06 120.35,12.05 121.24,12.04 122.12,12.04 123.01,12.03 123.89,12.03 124.78,12.02 125.66,12.02 126.55,12.02 127.44,12.02 128.32,12.01 129.21,12.01 130.09,12.01 130.98,12.01 131.86,12.01 132.75,12.01 133.63,12.01 134.52,12.01 135.41,12.00 136.29,12.00 137.18,12.00 138.06,12.00 138.95,12.00 139.83,12.00 140.72,12.00 141.60,12.00 142.49,12.00 143.37,12.00 144.26,12.00 145.15,12.00 146.03,12.00 146.92,12.00 147.80,12.00 148.69,12.00 149.57,12.00 150.46,12.00 151.34,12.00 152.23,12.00 153.12,12.00 154.00,12.00 154.89,12.00 155.77,12.00 156.66,12.00 157.54,12.00 158.43,12.00 159.31,12.00 160.20,12.00 161.09,12.00 161.97,12.00 162.86,12.00 163.74,12.00 164.63,12.00 165.51,12.00 166.40,12.00 167.28,12.00 168.17,12.00 169.06,12.00 169.94,12.00 170.83,12.00 171.71,12.00 172.60,12.00 173.48,12.00 174.37,12.00 175.25,12.00 176.14,12.00 177.02,12.00 177.91,12.00 178.80,12.00 179.68,12.00 180.57,12.00 181.45,12.00 182.34,12.00 183.22,12.00 184.11,12.00 184.99,12.00 185.88,12.00 186.77,12.00 187.65,12.00 188.54,12.00 189.42,12.00 190.31,12.00 191.19,12.00 192.08,12.00 192.96,12.00 193.85,12.00 194.74,12.00 195.62,12.00 196.51,12.00 197.39,12.00 198.28,12.00 199.16,12.00 200.05,12.00 200.93,12.00 201.82,12.00 202.71,12.00 203.59,12.00 204.48,12.00 205.36,12.00 206.25,12.00 207.13,12.00 208.02,12.00 208.90,12.00 209.79,12.00 210.67,12.00 211.56,12.00 212.45,12.00 213.33,12.00 214.22,12.00 215.10,12.00 215.99,12.00 216.87,12.00 217.76,12.00 218.64,12.00 219.53,12.00 220.42,12.00 221.30,12.00 222.19,12.00 223.07,12.00 223.96,12.00 224.84,12.00 225.73,12.00 226.61,12.00 227.50,12.00" fill="none" stroke="#ff0000" stroke-width="1.0" stroke-dasharray="1.9 1.3"/>
<rect x="49.69" y="170.38" width="3.19" height="3.19" rx="0.6" fill="#ff0000"/>
<rect x="55.02" y="167.84" width="3.19" height="3.19" rx="0.6" fill="#ff0000"/>
<rect x="60.37" y="149.54" width="3.19" height="3.19" rx="0.6" fill="#ff0000"/>
<rect x="65.70" y="111.86" width="3.19" height="3.19" rx="0.6" fill="#ff0000"/>
<rect x="71.05" y="72.04" width="3.19" height="3.19" rx="0.6" fill="#ff0000"/>
<rect x="76.39" y="43.12" width="3.19" height="3.19" rx="0.6" fill="#ff0000"/>
<rect x="81.72" y="26.26" width="3.19" height="3.19" rx="0.6" fill="#ff0000"/>
<rect x="87.06" y="17.65" width="3.19" height="3.19" rx="0.6" fill="#ff0000"/>
<rect x="92.41" y="13.60" width="3.19" height="3.19" rx="0.6" fill="#ff0000"/>
<rect x="97.75" y="11.78" width="3.19" height="3.19" rx="0.6" fill="#ff0000"/>
<rect x="103.09" y="10.99" width="3.19" height="3.19" rx="0.6" fill="#ff0000"/>
<rect x="108.42" y="10.66" width="3.19" height="3.19" rx="0.6" fill="#ff0000"/>
<rect x="113.77" y="10.51" width="3.19" height="3.19" rx="0.6" fill="#ff0000"/>
<rect x="119.11" y="10.45" width="3.19" height="3.19" rx="0.6" fill="#ff0000"/>
<rect x="124.44" y="10.42" width="3.19" height="3.19" rx="0.6" fill="#ff0000"/>
<rect x="129.78" y="10.41" width="3.19" height="3.19" rx="0.6" fill="#ff0000"/>
<rect x="135.12" y="10.41" width="3.19" height="3.19" rx="0.6" fill="#ff0000"/>
<rect x="140.47" y="10.41" width="3.19" height="3.19" rx="0.6" fill="#ff0000"/>
<rect x="145.81" y="10.41" width="3.19" height="3.19" rx="0.6" fill="#ff0000"/>
<rect x="151.15" y="10.41" width="3.19" height="3.19" rx="0.6" fill="#ff0000"/>
<rect x="156.48" y="10.41" width="3.19" height="3.19" rx="0.6" fill="#ff0000"/>
<rect x="161.83" y="10.41" width="3.19" height="3.19" rx="0.6" fill="#ff0000"/>
<rect x="167.16" y="10.41" width="3.19" height="3.19" rx="0.6" fill="#ff0000"/>
<rect x="172.50" y="10.41" width="3.19" height="3.19" rx="0.6" fill="#ff0000"/>
<rect x="177.84" y="10.41" width="3.19" height="3.19" rx="0.6" fill="#ff0000"/>
<rect x="183.19" y="10.41" width="3.19" height="3.19" rx="0.6" fill="#ff0000"/>
<rect x="188.53" y="10.41" width="3.19" height="3.19" rx="0.6" fill="#ff0000"/>
<rect x="193.86" y="10.41" width="3.19" height="3.19" rx="0.6" fill="#ff0000"/>
<rect x="199.20" y="10.41" width="3.19" height="3.19" rx="0.6" fill="#ff0000"/>
<rect x="204.55" y="10.41" width="3.19" height="3.19" rx="0.6" fill="#ff0000"/>
<rect x="209.88" y="10.41" width="3.19" height="3.19" rx="0.6" fill="#ff0000"/>
<rect x="215.22" y="10.41" width="3.19" height="3.19" rx="0.6" fill="#ff0000"/>
<rect x="220.56" y="10.41" width="3.19" height="3.19" rx="0.6" fill="#ff0000"/>
<rect x="225.91" y="10.41" width="3.19" height="3.19" rx="0.6" fill="#ff0000"/>
<polyline points="51.28,171.92 52.17,171.81 53.05,171.59 53.94,171.21 54.82,170.60 55.71,169.68 56.59,168.40 57.48,166.69 58.36,164.52 59.25,161.85 60.14,158.67 61.02,155.00 61.91,150.87 62.79,146.31 63.68,141.38 64.56,136.13 65.45,130.65 66.33,124.98 67.22,119.20 68.11,113.36 68.99,107.53 69.88,101.75 70.76,96.08 71.65,90.55 72.53,85.18 73.42,80.02 74.30,75.08 75.19,70.37 76.07,65.91 76.96,61.69 77.85,57.72 78.73,54.00 79.62,50.53 80.50,47.29 81.39,44.28 82.27,41.50 83.16,38.92 84.04,36.54 84.93,34.35 85.82,32.34 86.70,30.50 87.59,28.81 88.47,27.26 89.36,25.85 90.24,24.56 91.13,23.38 92.01,22.31 92.90,21.34 93.79,20.45 94.67,19.65 95.56,18.92 96.44,18.26 97.33,17.66 98.21,17.12 99.10,16.62 99.98,16.18 100.87,15.77 101.76,15.41 102.64,15.08 103.53,14.78 104.41,14.51 105.30,14.27 106.18,14.05 107.07,13.85 107.95,13.67 108.84,13.51 109.72,13.36 110.61,13.23 111.50,13.11 112.38,13.01 113.27,12.91 114.15,12.82 115.04,12.74 115.92,12.67 116.81,12.61 117.69,12.55 118.58,12.50 119.47,12.45 120.35,12.41 121.24,12.37 122.12,12.33 123.01,12.30 123.89,12.27 124.78,12.25 125.66,12.22 126.55,12.20 127.44,12.18 128.32,12.17 129.21,12.15 130.09,12.14 130.98,12.12 131.86,12.11 132.75,12.10 133.63,12.09 134.52,12.08 135.41,12.08 136.29,12.07 137.18,12.06 138.06,12.06 138.95,12.05 139.83,12.05 140.72,12.04 141.60,12.04 142.49,12.04 143.37,12.03 144.26,12.03 145.15,12.03 146.03,12.02 146.92,12.02 147.80,12.02 148.69,12.02 149.57,12.02 150.46,12.02 151.34,12.01 152.23,12.01 153.12,12.01 154.00,12.01 154.89,12.01 155.77,12.01 156.66,12.01 157.54,12.01 158.43,12.01 159.31,12.01 160.20,12.01 161.09,12.01 161.97,12.00 162.86,12.00 163.74,12.00 164.63,12.00 165.51,12.00 166.40,12.00 167.28,12.00 168.17,12.00 169.06,12.00 169.94,12.00 170.83,12.00 171.71,12.00 172.60,12.00 173.48,12.00 174.37,12.00 175.25,12.00 176.14,12.00 177.02,12.00 177.91,12.00 178.80,12.00 179.68,12.00 180.57,12.00 181.45,12.00 182.34,12.00 183.22,12.00 184.11,12.00 184.99,12.00 185.88,12.00 186.77,12.00 187.65,12.00 188.54,12.00 189.42,12.00 190.31,12.00 191.19,12.00 192.08,12.00 192.96,12.00 193.85,12.00 194.74,12.00 195.62,12.00 196.51,12.00 197.39,12.00 198.28,12.00 199.16,12.00 200.05,12.00 200.93,12.00 201.82,12.00 202.71,12.00 203.59,12.00 204.48,12.00 205.36,12.00 206.25,12.00 207.13,12.00 208.02,12.00 208.90,12.00 209.79,12.00 210.67,12.00 211.56,12.00 212.45,12.00 213.33,12.00 214.22,12.00 215.10,12.00 215.99,12.00 216.87,12.00 217.76,12.00 218.64,12.00 219.53,12.00 220.42,12.00 221.30,12.00 222.19,12.00 223.07,12.00 223.96,12.00 224.84,12.00 225.73,12.00 226.61,12.00 227.50,12.00" fill="none" stroke="#1b8fd6" stroke-width="1.0"/>
<rect x="49.69" y="170.33" width="3.19" height="3.19" rx="0.6" fill="#0072bd"/>
<rect x="55.02" y="166.76" width="3.19" height="3.19" rx="0.6" fill="#0072bd"/>
<rect x="60.37" y="149.01" width="3.19" height="3.19" rx="0.6" fill="#0072bd"/>
<rect x="65.70" y="117.07" width="3.19" height="3.19" rx="0.6" fill="#0072bd"/>
<rect x="71.05" y="82.95" width="3.19" height="3.19" rx="0.6" fill="#0072bd"/>
<rect x="76.39" y="55.55" width="3.19" height="3.19" rx="0.6" fill="#0072bd"/>
<rect x="81.72" y="36.88" width="3.19" height="3.19" rx="0.6" fill="#0072bd"/>
<rect x="87.06" y="25.35" width="3.19" height="3.19" rx="0.6" fill="#0072bd"/>
<rect x="92.41" y="18.66" width="3.19" height="3.19" rx="0.6" fill="#0072bd"/>
<rect x="97.75" y="14.90" width="3.19" height="3.19" rx="0.6" fill="#0072bd"/>
<rect x="103.09" y="12.84" width="3.19" height="3.19" rx="0.6" fill="#0072bd"/>
<rect x="108.42" y="11.72" width="3.19" height="3.19" rx="0.6" fill="#0072bd"/>
<rect x="113.77" y="11.12" width="3.19" height="3.19" rx="0.6" fill="#0072bd"/>
<rect x="119.11" y="10.80" width="3.19" height="3.19" rx="0.6" fill="#0072bd"/>
<rect x="124.44" y="10.62" width="3.19" height="3.19" rx="0.6" fill="#0072bd"/>
<rect x="129.78" y="10.52" width="3.19" height="3.19" rx="0.6" fill="#0072bd"/>
<rect x="135.12" y="10.47" width="3.19" height="3.19" rx="0.6" fill="#0072bd"/>
<rect x="140.47" y="10.44" width="3.19" height="3.19" rx="0.6" fill="#0072bd"/>
<rect x="145.81" y="10.43" width="3.19" height="3.19" rx="0.6" fill="#0072bd"/>
<rect x="151.15" y="10.42" width="3.19" height="3.19" rx="0.6" fill="#0072bd"/>
<rect x="156.48" y="10.41" width="3.19" height="3.19" rx="0.6" fill="#0072bd"/>
<rect x="161.83" y="10.41" width="3.19" height="3.19" rx="0.6" fill="#0072bd"/>
<rect x="167.16" y="10.41" width="3.19" height="3.19" rx="0.6" fill="#0072bd"/>
<rect x="172.50" y="10.41" width="3.19" height="3.19" rx="0.6" fill="#0072bd"/>
<rect x="177.84" y="10.41" width="3.19" height="3.19" rx="0.6" fill="#0072bd"/>
<rect x="183.19" y="10.41" width="3.19" height="3.19" rx="0.6" fill="#0072bd"/>
<rect x="188.53" y="10.41" width="3.19" height="3.19" rx="0.6" fill="#0072bd"/>
<rect x="193.86" y="10.41" width="3.19" height="3.19" rx="0.6" fill="#0072bd"/>
<rect x="199.20" y="10.41" width="3.19" height="3.19" rx="0.6" fill="#0072bd"/>
<rect x="204.55" y="10.41" width="3.19" height="3.19" rx="0.6" fill="#0072bd"/>
<rect x="209.88" y="10.41" width="3.19" height="3.19" rx="0.6" fill="#0072bd"/>
<rect x="215.22" y="10.41" width="3.19" height="3.19" rx="0.6" fill="#0072bd"/>
<rect x="220.56" y="10.41" width="3.19" height="3.19" rx="0.6" fill="#0072bd"/>
<rect x="225.91" y="10.41" width="3.19" height="3.19" rx="0.6" fill="#0072bd"/>
</g>
<line x1="49.50" y1="172.0" x2="49.50" y2="170.0" stroke="#858585" stroke-width="0.8"/>
<line x1="49.5" y1="172.00" x2="51.5" y2="172.00" stroke="#858585" stroke-width="0.8"/>
<line x1="67.30" y1="172.0" x2="67.30" y2="170.7" stroke="#858585" stroke-width="0.8"/>
<line x1="49.5" y1="156.00" x2="50.8" y2="156.00" stroke="#858585" stroke-width="0.8"/>
<line x1="85.10" y1="172.0" x2="85.10" y2="170.0" stroke="#858585" stroke-width="0.8"/>
<line x1="49.5" y1="140.00" x2="51.5" y2="140.00" stroke="#858585" stroke-width="0.8"/>
<line x1="102.90" y1="172.0" x2="102.90" y2="170.7" stroke="#858585" stroke-width="0.8"/>
<line x1="49.5" y1="124.00" x2="50.8" y2="124.00" stroke="#858585" stroke-width="0.8"/>
<line x1="120.70" y1="172.0" x2="120.70" y2="170.0" stroke="#858585" stroke-width="0.8"/>
<line x1="49.5" y1="108.00" x2="51.5" y2="108.00" stroke="#858585" stroke-width="0.8"/>
<line x1="138.50" y1="172.0" x2="138.50" y2="170.7" stroke="#858585" stroke-width="0.8"/>
<line x1="49.5" y1="92.00" x2="50.8" y2="92.00" stroke="#858585" stroke-width="0.8"/>
<line x1="156.30" y1="172.0" x2="156.30" y2="170.0" stroke="#858585" stroke-width="0.8"/>
<line x1="49.5" y1="76.00" x2="51.5" y2="76.00" stroke="#858585" stroke-width="0.8"/>
<line x1="174.10" y1="172.0" x2="174.10" y2="170.7" stroke="#858585" stroke-width="0.8"/>
<line x1="49.5" y1="60.00" x2="50.8" y2="60.00" stroke="#858585" stroke-width="0.8"/>
<line x1="191.90" y1="172.0" x2="191.90" y2="170.0" stroke="#858585" stroke-width="0.8"/>
<line x1="49.5" y1="44.00" x2="51.5" y2="44.00" stroke="#858585" stroke-width="0.8"/>
<line x1="209.70" y1="172.0" x2="209.70" y2="170.7" stroke="#858585" stroke-width="0.8"/>
<line x1="49.5" y1="28.00" x2="50.8" y2="28.00" stroke="#858585" stroke-width="0.8"/>
<line x1="227.50" y1="172.0" x2="227.50" y2="170.0" stroke="#858585" stroke-width="0.8"/>
<line x1="49.5" y1="12.00" x2="51.5" y2="12.00" stroke="#858585" stroke-width="0.8"/>
<text x="49.50" y="181.80" text-anchor="middle" class="tk" font-size="9.8">0.0</text>
<text x="47.10" y="175.20" text-anchor="end" class="tk" font-size="9.8">0.0</text>
<text x="85.10" y="181.80" text-anchor="middle" class="tk" font-size="9.8">0.2</text>
<text x="47.10" y="143.20" text-anchor="end" class="tk" font-size="9.8">0.2</text>
<text x="120.70" y="181.80" text-anchor="middle" class="tk" font-size="9.8">0.4</text>
<text x="47.10" y="111.20" text-anchor="end" class="tk" font-size="9.8">0.4</text>
<text x="156.30" y="181.80" text-anchor="middle" class="tk" font-size="9.8">0.6</text>
<text x="47.10" y="79.20" text-anchor="end" class="tk" font-size="9.8">0.6</text>
<text x="191.90" y="181.80" text-anchor="middle" class="tk" font-size="9.8">0.8</text>
<text x="47.10" y="47.20" text-anchor="end" class="tk" font-size="9.8">0.8</text>
<text x="227.50" y="181.80" text-anchor="middle" class="tk" font-size="9.8">1.0</text>
<text x="47.10" y="15.20" text-anchor="end" class="tk" font-size="9.8">1.0</text>
<line x1="371.48" y1="16.5" x2="371.48" y2="176.3" stroke="#f2f2f2" stroke-width="0.6"/>
<line x1="336.7" y1="144.34" x2="510.6" y2="144.34" stroke="#f2f2f2" stroke-width="0.6"/>
<line x1="406.26" y1="16.5" x2="406.26" y2="176.3" stroke="#f2f2f2" stroke-width="0.6"/>
<line x1="336.7" y1="112.38" x2="510.6" y2="112.38" stroke="#f2f2f2" stroke-width="0.6"/>
<line x1="441.04" y1="16.5" x2="441.04" y2="176.3" stroke="#f2f2f2" stroke-width="0.6"/>
<line x1="336.7" y1="80.42" x2="510.6" y2="80.42" stroke="#f2f2f2" stroke-width="0.6"/>
<line x1="475.82" y1="16.5" x2="475.82" y2="176.3" stroke="#f2f2f2" stroke-width="0.6"/>
<line x1="336.7" y1="48.46" x2="510.6" y2="48.46" stroke="#f2f2f2" stroke-width="0.6"/>
<rect x="336.7" y="16.5" width="173.90" height="159.80" fill="none" stroke="#858585" stroke-width="1"/>
<clipPath id="c336"><rect x="336.7" y="16.5" width="173.90" height="159.80"/></clipPath><g clip-path="url(#c336)">
<polyline points="338.44,176.30 339.30,176.30 340.17,176.30 341.03,176.30 341.90,176.29 342.76,176.29 343.63,176.28 344.49,176.27 345.36,176.25 346.23,176.23 347.09,176.20 347.96,176.17 348.82,176.13 349.69,176.08 350.55,176.02 351.42,175.96 352.28,175.89 353.15,175.81 354.01,175.72 354.88,175.62 355.74,175.51 356.61,175.39 357.47,175.27 358.34,175.13 359.20,174.99 360.07,174.83 360.93,174.67 361.80,174.50 362.66,174.32 363.53,174.13 364.39,173.93 365.26,173.72 366.12,173.50 366.99,173.28 367.85,173.05 368.72,172.81 369.58,172.56 370.45,172.30 371.31,172.04 372.18,171.77 373.04,171.49 373.91,171.21 374.77,170.92 375.64,170.62 376.50,170.31 377.37,170.00 378.24,169.69 379.10,169.36 379.97,169.04 380.83,168.70 381.70,168.36 382.56,168.02 383.43,167.67 384.29,167.31 385.16,166.96 386.02,166.59 386.89,166.22 387.75,165.85 388.62,165.48 389.48,165.10 390.35,164.71 391.21,164.33 392.08,163.94 392.94,163.54 393.81,163.15 394.67,162.75 395.54,162.34 396.40,161.94 397.27,161.53 398.13,161.12 399.00,160.70 399.86,160.29 400.73,159.87 401.59,159.45 402.46,159.03 403.32,158.60 404.19,158.18 405.05,157.75 405.92,157.32 406.78,156.89 407.65,156.46 408.51,156.02 409.38,155.59 410.24,155.15 411.11,154.72 411.98,154.28 412.84,153.84 413.71,153.40 414.57,152.96 415.44,152.52 416.30,152.08 417.17,151.63 418.03,151.19 418.90,150.75 419.76,150.30 420.63,149.86 421.49,149.42 422.36,148.97 423.22,148.53 424.09,148.08 424.95,147.64 425.82,147.19 426.68,146.75 427.55,146.30 428.41,145.86 429.28,145.42 430.14,144.97 431.01,144.53 431.87,144.09 432.74,143.64 433.60,143.20 434.47,142.76 435.33,142.32 436.20,141.88 437.06,141.44 437.93,141.00 438.79,140.56 439.66,140.12 440.52,139.68 441.39,139.24 442.25,138.81 443.12,138.37 443.98,137.94 444.85,137.50 445.72,137.07 446.58,136.64 447.45,136.21 448.31,135.78 449.18,135.35 450.04,134.92 450.91,134.49 451.77,134.07 452.64,133.64 453.50,133.22 454.37,132.79 455.23,132.37 456.10,131.95 456.96,131.53 457.83,131.11 458.69,130.69 459.56,130.27 460.42,129.86 461.29,129.44 462.15,129.03 463.02,128.62 463.88,128.21 464.75,127.80 465.61,127.39 466.48,126.98 467.34,126.58 468.21,126.17 469.07,125.77 469.94,125.37 470.80,124.97 471.67,124.57 472.53,124.17 473.40,123.77 474.26,123.38 475.13,122.98 475.99,122.59 476.86,122.20 477.73,121.81 478.59,121.42 479.46,121.03 480.32,120.64 481.19,120.26 482.05,119.87 482.92,119.49 483.78,119.11 484.65,118.73 485.51,118.35 486.38,117.97 487.24,117.60 488.11,117.22 488.97,116.85 489.84,116.48 490.70,116.11 491.57,115.74 492.43,115.37 493.30,115.01 494.16,114.64 495.03,114.28 495.89,113.92 496.76,113.56 497.62,113.20 498.49,112.84 499.35,112.48 500.22,112.13 501.08,111.77 501.95,111.42 502.81,111.07 503.68,110.72 504.54,110.37 505.41,110.03 506.27,109.68 507.14,109.34 508.00,108.99 508.87,108.65 509.73,108.31 510.60,107.97" fill="none" stroke="#ff0000" stroke-width="1.0" stroke-dasharray="1.9 1.3"/>
<path d="M338.44 174.21L340.53 176.30L338.44 178.39L336.35 176.30Z" fill="#ff0000"/>
<path d="M343.66 174.19L345.75 176.28L343.66 178.37L341.57 176.28Z" fill="#ff0000"/>
<path d="M348.87 174.04L350.96 176.13L348.87 178.22L346.78 176.13Z" fill="#ff0000"/>
<path d="M354.09 173.62L356.18 175.71L354.09 177.80L352.00 175.71Z" fill="#ff0000"/>
<path d="M359.31 172.88L361.40 174.97L359.31 177.06L357.22 174.97Z" fill="#ff0000"/>
<path d="M364.52 171.81L366.61 173.90L364.52 175.99L362.43 173.90Z" fill="#ff0000"/>
<path d="M369.74 170.42L371.83 172.51L369.74 174.60L367.65 172.51Z" fill="#ff0000"/>
<path d="M374.96 168.76L377.05 170.85L374.96 172.94L372.87 170.85Z" fill="#ff0000"/>
<path d="M380.18 166.86L382.26 168.95L380.18 171.04L378.09 168.95Z" fill="#ff0000"/>
<path d="M385.39 164.77L387.48 166.86L385.39 168.95L383.30 166.86Z" fill="#ff0000"/>
<path d="M390.61 162.51L392.70 164.60L390.61 166.69L388.52 164.60Z" fill="#ff0000"/>
<path d="M395.83 160.12L397.92 162.21L395.83 164.30L393.74 162.21Z" fill="#ff0000"/>
<path d="M401.04 157.63L403.13 159.72L401.04 161.81L398.95 159.72Z" fill="#ff0000"/>
<path d="M406.26 155.06L408.35 157.15L406.26 159.24L404.17 157.15Z" fill="#ff0000"/>
<path d="M411.48 152.44L413.57 154.53L411.48 156.62L409.39 154.53Z" fill="#ff0000"/>
<path d="M416.69 149.79L418.78 151.88L416.69 153.97L414.60 151.88Z" fill="#ff0000"/>
<path d="M421.91 147.11L424.00 149.20L421.91 151.29L419.82 149.20Z" fill="#ff0000"/>
<path d="M427.13 144.43L429.22 146.52L427.13 148.61L425.04 146.52Z" fill="#ff0000"/>
<path d="M432.35 141.75L434.44 143.84L432.35 145.93L430.26 143.84Z" fill="#ff0000"/>
<path d="M437.56 139.09L439.65 141.18L437.56 143.27L435.47 141.18Z" fill="#ff0000"/>
<path d="M442.78 136.45L444.87 138.54L442.78 140.63L440.69 138.54Z" fill="#ff0000"/>
<path d="M448.00 133.84L450.09 135.93L448.00 138.02L445.91 135.93Z" fill="#ff0000"/>
<path d="M453.21 131.27L455.30 133.36L453.21 135.45L451.12 133.36Z" fill="#ff0000"/>
<path d="M458.43 128.73L460.52 130.82L458.43 132.91L456.34 130.82Z" fill="#ff0000"/>
<path d="M463.65 126.23L465.74 128.32L463.65 130.41L461.56 128.32Z" fill="#ff0000"/>
<path d="M468.86 123.78L470.95 125.87L468.86 127.96L466.77 125.87Z" fill="#ff0000"/>
<path d="M474.08 121.37L476.17 123.46L474.08 125.55L471.99 123.46Z" fill="#ff0000"/>
<path d="M479.30 119.01L481.39 121.10L479.30 123.19L477.21 121.10Z" fill="#ff0000"/>
<path d="M484.51 116.70L486.60 118.79L484.51 120.88L482.43 118.79Z" fill="#ff0000"/>
<path d="M489.73 114.43L491.82 116.52L489.73 118.61L487.64 116.52Z" fill="#ff0000"/>
<path d="M494.95 112.22L497.04 114.31L494.95 116.40L492.86 114.31Z" fill="#ff0000"/>
<path d="M500.17 110.06L502.26 112.15L500.17 114.24L498.08 112.15Z" fill="#ff0000"/>
<path d="M505.38 107.95L507.47 110.04L505.38 112.13L503.29 110.04Z" fill="#ff0000"/>
<path d="M510.60 105.88L512.69 107.97L510.60 110.06L508.51 107.97Z" fill="#ff0000"/>
<polyline points="338.44,176.30 339.30,176.30 340.17,176.30 341.03,176.30 341.90,176.29 342.76,176.29 343.63,176.28 344.49,176.26 345.36,176.24 346.23,176.22 347.09,176.19 347.96,176.15 348.82,176.10 349.69,176.05 350.55,175.99 351.42,175.92 352.28,175.85 353.15,175.76 354.01,175.67 354.88,175.57 355.74,175.46 356.61,175.34 357.47,175.21 358.34,175.07 359.20,174.93 360.07,174.77 360.93,174.61 361.80,174.44 362.66,174.26 363.53,174.07 364.39,173.88 365.26,173.67 366.12,173.46 366.99,173.24 367.85,173.02 368.72,172.78 369.58,172.54 370.45,172.30 371.31,172.04 372.18,171.78 373.04,171.51 373.91,171.24 374.77,170.96 375.64,170.68 376.50,170.38 377.37,170.09 378.24,169.79 379.10,169.48 379.97,169.17 380.83,168.85 381.70,168.53 382.56,168.20 383.43,167.87 384.29,167.54 385.16,167.20 386.02,166.85 386.89,166.51 387.75,166.16 388.62,165.80 389.48,165.44 390.35,165.08 391.21,164.72 392.08,164.35 392.94,163.98 393.81,163.61 394.67,163.23 395.54,162.86 396.40,162.48 397.27,162.09 398.13,161.71 399.00,161.32 399.86,160.93 400.73,160.54 401.59,160.15 402.46,159.75 403.32,159.35 404.19,158.96 405.05,158.56 405.92,158.16 406.78,157.75 407.65,157.35 408.51,156.95 409.38,156.54 410.24,156.13 411.11,155.73 411.98,155.32 412.84,154.91 413.71,154.50 414.57,154.09 415.44,153.67 416.30,153.26 417.17,152.85 418.03,152.44 418.90,152.02 419.76,151.61 420.63,151.20 421.49,150.78 422.36,150.37 423.22,149.95 424.09,149.54 424.95,149.12 425.82,148.71 426.68,148.29 427.55,147.88 428.41,147.47 429.28,147.05 430.14,146.64 431.01,146.22 431.87,145.81 432.74,145.40 433.60,144.99 434.47,144.57 435.33,144.16 436.20,143.75 437.06,143.34 437.93,142.93 438.79,142.52 439.66,142.11 440.52,141.70 441.39,141.29 442.25,140.88 443.12,140.48 443.98,140.07 444.85,139.67 445.72,139.26 446.58,138.86 447.45,138.45 448.31,138.05 449.18,137.65 450.04,137.25 450.91,136.85 451.77,136.45 452.64,136.05 453.50,135.65 454.37,135.26 455.23,134.86 456.10,134.47 456.96,134.07 457.83,133.68 458.69,133.29 459.56,132.90 460.42,132.51 461.29,132.12 462.15,131.73 463.02,131.35 463.88,130.96 464.75,130.58 465.61,130.19 466.48,129.81 467.34,129.43 468.21,129.05 469.07,128.67 469.94,128.29 470.80,127.92 471.67,127.54 472.53,127.17 473.40,126.79 474.26,126.42 475.13,126.05 475.99,125.68 476.86,125.31 477.73,124.94 478.59,124.57 479.46,124.21 480.32,123.85 481.19,123.48 482.05,123.12 482.92,122.76 483.78,122.40 484.65,122.04 485.51,121.68 486.38,121.33 487.24,120.97 488.11,120.62 488.97,120.27 489.84,119.92 490.70,119.57 491.57,119.22 492.43,118.87 493.30,118.52 494.16,118.18 495.03,117.83 495.89,117.49 496.76,117.15 497.62,116.81 498.49,116.47 499.35,116.13 500.22,115.79 501.08,115.46 501.95,115.12 502.81,114.79 503.68,114.46 504.54,114.13 505.41,113.80 506.27,113.47 507.14,113.14 508.00,112.82 508.87,112.49 509.73,112.17 510.60,111.85" fill="none" stroke="#1b8fd6" stroke-width="1.0"/>
<path d="M338.44 174.21L340.53 176.30L338.44 178.39L336.35 176.30Z" fill="#0072bd"/>
<path d="M343.66 174.19L345.75 176.28L343.66 178.37L341.57 176.28Z" fill="#0072bd"/>
<path d="M348.87 174.01L350.96 176.10L348.87 178.19L346.78 176.10Z" fill="#0072bd"/>
<path d="M354.09 173.57L356.18 175.66L354.09 177.75L352.00 175.66Z" fill="#0072bd"/>
<path d="M359.31 172.82L361.40 174.91L359.31 177.00L357.22 174.91Z" fill="#0072bd"/>
<path d="M364.52 171.76L366.61 173.85L364.52 175.94L362.43 173.85Z" fill="#0072bd"/>
<path d="M369.74 170.41L371.83 172.50L369.74 174.59L367.65 172.50Z" fill="#0072bd"/>
<path d="M374.96 168.81L377.05 170.90L374.96 172.99L372.87 170.90Z" fill="#0072bd"/>
<path d="M380.18 167.00L382.26 169.09L380.18 171.18L378.09 169.09Z" fill="#0072bd"/>
<path d="M385.39 165.01L387.48 167.10L385.39 169.19L383.30 167.10Z" fill="#0072bd"/>
<path d="M390.61 162.88L392.70 164.97L390.61 167.06L388.52 164.97Z" fill="#0072bd"/>
<path d="M395.83 160.64L397.92 162.73L395.83 164.82L393.74 162.73Z" fill="#0072bd"/>
<path d="M401.04 158.31L403.13 160.40L401.04 162.49L398.95 160.40Z" fill="#0072bd"/>
<path d="M406.26 155.91L408.35 158.00L406.26 160.09L404.17 158.00Z" fill="#0072bd"/>
<path d="M411.48 153.46L413.57 155.55L411.48 157.64L409.39 155.55Z" fill="#0072bd"/>
<path d="M416.69 150.99L418.78 153.08L416.69 155.17L414.60 153.08Z" fill="#0072bd"/>
<path d="M421.91 148.49L424.00 150.58L421.91 152.67L419.82 150.58Z" fill="#0072bd"/>
<path d="M427.13 145.99L429.22 148.08L427.13 150.17L425.04 148.08Z" fill="#0072bd"/>
<path d="M432.35 143.50L434.44 145.59L432.35 147.68L430.26 145.59Z" fill="#0072bd"/>
<path d="M437.56 141.01L439.65 143.10L437.56 145.19L435.47 143.10Z" fill="#0072bd"/>
<path d="M442.78 138.55L444.87 140.64L442.78 142.73L440.69 140.64Z" fill="#0072bd"/>
<path d="M448.00 136.11L450.09 138.20L448.00 140.29L445.91 138.20Z" fill="#0072bd"/>
<path d="M453.21 133.70L455.30 135.79L453.21 137.88L451.12 135.79Z" fill="#0072bd"/>
<path d="M458.43 131.32L460.52 133.41L458.43 135.50L456.34 133.41Z" fill="#0072bd"/>
<path d="M463.65 128.98L465.74 131.07L463.65 133.16L461.56 131.07Z" fill="#0072bd"/>
<path d="M468.86 126.67L470.95 128.76L468.86 130.85L466.77 128.76Z" fill="#0072bd"/>
<path d="M474.08 124.41L476.17 126.50L474.08 128.59L471.99 126.50Z" fill="#0072bd"/>
<path d="M479.30 122.19L481.39 124.28L479.30 126.37L477.21 124.28Z" fill="#0072bd"/>
<path d="M484.51 120.01L486.60 122.10L484.51 124.19L482.43 122.10Z" fill="#0072bd"/>
<path d="M489.73 117.87L491.82 119.96L489.73 122.05L487.64 119.96Z" fill="#0072bd"/>
<path d="M494.95 115.77L497.04 117.86L494.95 119.95L492.86 117.86Z" fill="#0072bd"/>
<path d="M500.17 113.72L502.26 115.81L500.17 117.90L498.08 115.81Z" fill="#0072bd"/>
<path d="M505.38 111.72L507.47 113.81L505.38 115.90L503.29 113.81Z" fill="#0072bd"/>
<path d="M510.60 109.76L512.69 111.85L510.60 113.94L508.51 111.85Z" fill="#0072bd"/>
<polyline points="338.44,176.06 339.30,175.99 340.17,175.91 341.03,175.82 341.90,175.71 342.76,175.59 343.63,175.45 344.49,175.30 345.36,175.13 346.23,174.95 347.09,174.74 347.96,174.52 348.82,174.28 349.69,174.03 350.55,173.75 351.42,173.46 352.28,173.14 353.15,172.81 354.01,172.46 354.88,172.10 355.74,171.71 356.61,171.31 357.47,170.89 358.34,170.45 359.20,169.99 360.07,169.52 360.93,169.03 361.80,168.52 362.66,168.00 363.53,167.47 364.39,166.91 365.26,166.35 366.12,165.77 366.99,165.17 367.85,164.57 368.72,163.95 369.58,163.31 370.45,162.67 371.31,162.01 372.18,161.34 373.04,160.67 373.91,159.98 374.77,159.28 375.64,158.57 376.50,157.86 377.37,157.13 378.24,156.40 379.10,155.66 379.97,154.91 380.83,154.16 381.70,153.40 382.56,152.63 383.43,151.86 384.29,151.08 385.16,150.30 386.02,149.51 386.89,148.72 387.75,147.92 388.62,147.13 389.48,146.32 390.35,145.52 391.21,144.71 392.08,143.90 392.94,143.09 393.81,142.27 394.67,141.46 395.54,140.64 396.40,139.83 397.27,139.01 398.13,138.19 399.00,137.37 399.86,136.55 400.73,135.73 401.59,134.91 402.46,134.09 403.32,133.28 404.19,132.46 405.05,131.65 405.92,130.83 406.78,130.02 407.65,129.21 408.51,128.40 409.38,127.59 410.24,126.79 411.11,125.99 411.98,125.19 412.84,124.39 413.71,123.59 414.57,122.80 415.44,122.01 416.30,121.22 417.17,120.44 418.03,119.66 418.90,118.88 419.76,118.11 420.63,117.34 421.49,116.57 422.36,115.81 423.22,115.05 424.09,114.29 424.95,113.54 425.82,112.79 426.68,112.05 427.55,111.31 428.41,110.57 429.28,109.84 430.14,109.11 431.01,108.39 431.87,107.67 432.74,106.95 433.60,106.24 434.47,105.53 435.33,104.83 436.20,104.13 437.06,103.44 437.93,102.75 438.79,102.06 439.66,101.38 440.52,100.70 441.39,100.03 442.25,99.37 443.12,98.70 443.98,98.04 444.85,97.39 445.72,96.74 446.58,96.09 447.45,95.45 448.31,94.82 449.18,94.19 450.04,93.56 450.91,92.94 451.77,92.32 452.64,91.71 453.50,91.10 454.37,90.49 455.23,89.89 456.10,89.30 456.96,88.70 457.83,88.12 458.69,87.54 459.56,86.96 460.42,86.38 461.29,85.82 462.15,85.25 463.02,84.69 463.88,84.14 464.75,83.58 465.61,83.04 466.48,82.49 467.34,81.95 468.21,81.42 469.07,80.89 469.94,80.36 470.80,79.84 471.67,79.33 472.53,78.81 473.40,78.30 474.26,77.80 475.13,77.30 475.99,76.80 476.86,76.31 477.73,75.82 478.59,75.33 479.46,74.85 480.32,74.38 481.19,73.90 482.05,73.43 482.92,72.97 483.78,72.51 484.65,72.05 485.51,71.60 486.38,71.15 487.24,70.70 488.11,70.26 488.97,69.82 489.84,69.38 490.70,68.95 491.57,68.52 492.43,68.10 493.30,67.68 494.16,67.26 495.03,66.85 495.89,66.44 496.76,66.03 497.62,65.63 498.49,65.23 499.35,64.83 500.22,64.44 501.08,64.05 501.95,63.66 502.81,63.28 503.68,62.90 504.54,62.53 505.41,62.15 506.27,61.78 507.14,61.42 508.00,61.05 508.87,60.69 509.73,60.33 510.60,59.98" fill="none" stroke="#ff0000" stroke-width="1.0" stroke-dasharray="1.9 1.3"/>
<path d="M338.44 173.97L340.53 177.62L336.35 177.62Z" fill="#ff0000"/>
<path d="M343.66 173.36L345.75 177.02L341.57 177.02Z" fill="#ff0000"/>
<path d="M348.87 172.18L350.96 175.83L346.78 175.83Z" fill="#ff0000"/>
<path d="M354.09 170.34L356.18 174.00L352.00 174.00Z" fill="#ff0000"/>
<path d="M359.31 167.85L361.40 171.50L357.22 171.50Z" fill="#ff0000"/>
<path d="M364.52 164.74L366.61 168.40L362.43 168.40Z" fill="#ff0000"/>
<path d="M369.74 161.11L371.83 164.76L367.65 164.76Z" fill="#ff0000"/>
<path d="M374.96 157.04L377.05 160.70L372.87 160.70Z" fill="#ff0000"/>
<path d="M380.18 152.64L382.26 156.30L378.09 156.30Z" fill="#ff0000"/>
<path d="M385.39 147.99L387.48 151.65L383.30 151.65Z" fill="#ff0000"/>
<path d="M390.61 143.18L392.70 146.84L388.52 146.84Z" fill="#ff0000"/>
<path d="M395.83 138.28L397.92 141.94L393.74 141.94Z" fill="#ff0000"/>
<path d="M401.04 133.34L403.13 137.00L398.95 137.00Z" fill="#ff0000"/>
<path d="M406.26 128.42L408.35 132.08L404.17 132.08Z" fill="#ff0000"/>
<path d="M411.48 123.56L413.57 127.21L409.39 127.21Z" fill="#ff0000"/>
<path d="M416.69 118.78L418.78 122.44L414.60 122.44Z" fill="#ff0000"/>
<path d="M421.91 114.11L424.00 117.77L419.82 117.77Z" fill="#ff0000"/>
<path d="M427.13 109.58L429.22 113.23L425.04 113.23Z" fill="#ff0000"/>
<path d="M432.35 105.19L434.44 108.84L430.26 108.84Z" fill="#ff0000"/>
<path d="M437.56 100.95L439.65 104.61L435.47 104.61Z" fill="#ff0000"/>
<path d="M442.78 96.87L444.87 100.53L440.69 100.53Z" fill="#ff0000"/>
<path d="M448.00 92.96L450.09 96.62L445.91 96.62Z" fill="#ff0000"/>
<path d="M453.21 89.21L455.30 92.87L451.12 92.87Z" fill="#ff0000"/>
<path d="M458.43 85.62L460.52 89.28L456.34 89.28Z" fill="#ff0000"/>
<path d="M463.65 82.20L465.74 85.85L461.56 85.85Z" fill="#ff0000"/>
<path d="M468.86 78.93L470.95 82.59L466.77 82.59Z" fill="#ff0000"/>
<path d="M474.08 75.81L476.17 79.47L471.99 79.47Z" fill="#ff0000"/>
<path d="M479.30 72.85L481.39 76.51L477.21 76.51Z" fill="#ff0000"/>
<path d="M484.51 70.03L486.60 73.69L482.43 73.69Z" fill="#ff0000"/>
<path d="M489.73 67.35L491.82 71.00L487.64 71.00Z" fill="#ff0000"/>
<path d="M494.95 64.80L497.04 68.45L492.86 68.45Z" fill="#ff0000"/>
<path d="M500.17 62.37L502.26 66.03L498.08 66.03Z" fill="#ff0000"/>
<path d="M505.38 60.07L507.47 63.73L503.29 63.73Z" fill="#ff0000"/>
<path d="M510.60 57.89L512.69 61.55L508.51 61.55Z" fill="#ff0000"/>
<polyline points="338.44,176.28 339.30,176.25 340.17,176.21 341.03,176.16 341.90,176.09 342.76,176.01 343.63,175.90 344.49,175.77 345.36,175.62 346.23,175.45 347.09,175.25 347.96,175.03 348.82,174.79 349.69,174.53 350.55,174.24 351.42,173.93 352.28,173.60 353.15,173.26 354.01,172.89 354.88,172.50 355.74,172.09 356.61,171.66 357.47,171.22 358.34,170.76 359.20,170.28 360.07,169.79 360.93,169.28 361.80,168.76 362.66,168.22 363.53,167.67 364.39,167.12 365.26,166.54 366.12,165.96 366.99,165.37 367.85,164.77 368.72,164.16 369.58,163.54 370.45,162.91 371.31,162.28 372.18,161.63 373.04,160.99 373.91,160.33 374.77,159.67 375.64,159.01 376.50,158.34 377.37,157.66 378.24,156.98 379.10,156.30 379.97,155.62 380.83,154.93 381.70,154.24 382.56,153.54 383.43,152.85 384.29,152.15 385.16,151.45 386.02,150.75 386.89,150.05 387.75,149.35 388.62,148.65 389.48,147.95 390.35,147.24 391.21,146.54 392.08,145.84 392.94,145.14 393.81,144.44 394.67,143.74 395.54,143.04 396.40,142.34 397.27,141.64 398.13,140.95 399.00,140.25 399.86,139.56 400.73,138.87 401.59,138.18 402.46,137.49 403.32,136.81 404.19,136.13 405.05,135.45 405.92,134.77 406.78,134.09 407.65,133.42 408.51,132.75 409.38,132.08 410.24,131.42 411.11,130.75 411.98,130.10 412.84,129.44 413.71,128.79 414.57,128.13 415.44,127.49 416.30,126.84 417.17,126.20 418.03,125.56 418.90,124.93 419.76,124.29 420.63,123.67 421.49,123.04 422.36,122.42 423.22,121.80 424.09,121.18 424.95,120.57 425.82,119.96 426.68,119.35 427.55,118.75 428.41,118.15 429.28,117.56 430.14,116.96 431.01,116.38 431.87,115.79 432.74,115.21 433.60,114.63 434.47,114.05 435.33,113.48 436.20,112.91 437.06,112.35 437.93,111.79 438.79,111.23 439.66,110.67 440.52,110.12 441.39,109.57 442.25,109.03 443.12,108.49 443.98,107.95 444.85,107.42 445.72,106.89 446.58,106.36 447.45,105.83 448.31,105.31 449.18,104.79 450.04,104.28 450.91,103.77 451.77,103.26 452.64,102.76 453.50,102.25 454.37,101.76 455.23,101.26 456.10,100.77 456.96,100.28 457.83,99.80 458.69,99.31 459.56,98.84 460.42,98.36 461.29,97.89 462.15,97.42 463.02,96.95 463.88,96.49 464.75,96.03 465.61,95.57 466.48,95.12 467.34,94.66 468.21,94.22 469.07,93.77 469.94,93.33 470.80,92.89 471.67,92.45 472.53,92.02 473.40,91.59 474.26,91.16 475.13,90.74 475.99,90.31 476.86,89.90 477.73,89.48 478.59,89.07 479.46,88.65 480.32,88.25 481.19,87.84 482.05,87.44 482.92,87.04 483.78,86.64 484.65,86.25 485.51,85.85 486.38,85.47 487.24,85.08 488.11,84.69 488.97,84.31 489.84,83.93 490.70,83.56 491.57,83.18 492.43,82.81 493.30,82.44 494.16,82.08 495.03,81.71 495.89,81.35 496.76,80.99 497.62,80.64 498.49,80.28 499.35,79.93 500.22,79.58 501.08,79.23 501.95,78.89 502.81,78.55 503.68,78.21 504.54,77.87 505.41,77.53 506.27,77.20 507.14,76.87 508.00,76.54 508.87,76.21 509.73,75.89 510.60,75.56" fill="none" stroke="#1b8fd6" stroke-width="1.0"/>
<path d="M338.44 174.19L340.53 177.84L336.35 177.84Z" fill="#0072bd"/>
<path d="M343.66 173.81L345.75 177.46L341.57 177.46Z" fill="#0072bd"/>
<path d="M348.87 172.69L350.96 176.34L346.78 176.34Z" fill="#0072bd"/>
<path d="M354.09 170.76L356.18 174.42L352.00 174.42Z" fill="#0072bd"/>
<path d="M359.31 168.13L361.40 171.79L357.22 171.79Z" fill="#0072bd"/>
<path d="M364.52 164.94L366.61 168.60L362.43 168.60Z" fill="#0072bd"/>
<path d="M369.74 161.34L371.83 164.99L367.65 164.99Z" fill="#0072bd"/>
<path d="M374.96 157.44L377.05 161.10L372.87 161.10Z" fill="#0072bd"/>
<path d="M380.18 153.36L382.26 157.02L378.09 157.02Z" fill="#0072bd"/>
<path d="M385.39 149.17L387.48 152.83L383.30 152.83Z" fill="#0072bd"/>
<path d="M390.61 144.94L392.70 148.60L388.52 148.60Z" fill="#0072bd"/>
<path d="M395.83 140.71L397.92 144.37L393.74 144.37Z" fill="#0072bd"/>
<path d="M401.04 136.53L403.13 140.19L398.95 140.19Z" fill="#0072bd"/>
<path d="M406.26 132.41L408.35 136.07L404.17 136.07Z" fill="#0072bd"/>
<path d="M411.48 128.38L413.57 132.04L409.39 132.04Z" fill="#0072bd"/>
<path d="M416.69 124.46L418.78 128.12L414.60 128.12Z" fill="#0072bd"/>
<path d="M421.91 120.65L424.00 124.30L419.82 124.30Z" fill="#0072bd"/>
<path d="M427.13 116.95L429.22 120.61L425.04 120.61Z" fill="#0072bd"/>
<path d="M432.35 113.38L434.44 117.04L430.26 117.04Z" fill="#0072bd"/>
<path d="M437.56 109.93L439.65 113.59L435.47 113.59Z" fill="#0072bd"/>
<path d="M442.78 106.61L444.87 110.27L440.69 110.27Z" fill="#0072bd"/>
<path d="M448.00 103.41L450.09 107.07L445.91 107.07Z" fill="#0072bd"/>
<path d="M453.21 100.33L455.30 103.99L451.12 103.99Z" fill="#0072bd"/>
<path d="M458.43 97.37L460.52 101.03L456.34 101.03Z" fill="#0072bd"/>
<path d="M463.65 94.52L465.74 98.18L461.56 98.18Z" fill="#0072bd"/>
<path d="M468.86 91.79L470.95 95.45L466.77 95.45Z" fill="#0072bd"/>
<path d="M474.08 89.16L476.17 92.82L471.99 92.82Z" fill="#0072bd"/>
<path d="M479.30 86.64L481.39 90.30L477.21 90.30Z" fill="#0072bd"/>
<path d="M484.51 84.22L486.60 87.87L482.43 87.87Z" fill="#0072bd"/>
<path d="M489.73 81.89L491.82 85.55L487.64 85.55Z" fill="#0072bd"/>
<path d="M494.95 79.66L497.04 83.31L492.86 83.31Z" fill="#0072bd"/>
<path d="M500.17 77.51L502.26 81.17L498.08 81.17Z" fill="#0072bd"/>
<path d="M505.38 75.45L507.47 79.11L503.29 79.11Z" fill="#0072bd"/>
<path d="M510.60 73.47L512.69 77.13L508.51 77.13Z" fill="#0072bd"/>
<polyline points="338.44,176.30 339.30,176.30 340.17,176.29 341.03,176.28 341.90,176.25 342.76,176.21 343.63,176.13 344.49,176.02 345.36,175.88 346.23,175.69 347.09,175.45 347.96,175.16 348.82,174.81 349.69,174.42 350.55,173.97 351.42,173.46 352.28,172.90 353.15,172.29 354.01,171.63 354.88,170.91 355.74,170.15 356.61,169.35 357.47,168.50 358.34,167.60 359.20,166.67 360.07,165.71 360.93,164.70 361.80,163.67 362.66,162.60 363.53,161.51 364.39,160.39 365.26,159.25 366.12,158.09 366.99,156.91 367.85,155.71 368.72,154.49 369.58,153.26 370.45,152.02 371.31,150.77 372.18,149.51 373.04,148.24 373.91,146.97 374.77,145.69 375.64,144.41 376.50,143.12 377.37,141.83 378.24,140.55 379.10,139.26 379.97,137.97 380.83,136.69 381.70,135.41 382.56,134.13 383.43,132.86 384.29,131.59 385.16,130.33 386.02,129.07 386.89,127.83 387.75,126.58 388.62,125.35 389.48,124.12 390.35,122.90 391.21,121.70 392.08,120.50 392.94,119.30 393.81,118.12 394.67,116.95 395.54,115.79 396.40,114.64 397.27,113.50 398.13,112.37 399.00,111.25 399.86,110.14 400.73,109.04 401.59,107.95 402.46,106.88 403.32,105.81 404.19,104.76 405.05,103.72 405.92,102.68 406.78,101.66 407.65,100.65 408.51,99.66 409.38,98.67 410.24,97.69 411.11,96.73 411.98,95.78 412.84,94.83 413.71,93.90 414.57,92.98 415.44,92.07 416.30,91.17 417.17,90.28 418.03,89.41 418.90,88.54 419.76,87.68 420.63,86.84 421.49,86.00 422.36,85.18 423.22,84.36 424.09,83.56 424.95,82.76 425.82,81.98 426.68,81.20 427.55,80.43 428.41,79.68 429.28,78.93 430.14,78.20 431.01,77.47 431.87,76.75 432.74,76.04 433.60,75.34 434.47,74.65 435.33,73.96 436.20,73.29 437.06,72.63 437.93,71.97 438.79,71.32 439.66,70.68 440.52,70.05 441.39,69.42 442.25,68.81 443.12,68.20 443.98,67.60 444.85,67.01 445.72,66.42 446.58,65.85 447.45,65.28 448.31,64.72 449.18,64.16 450.04,63.61 450.91,63.07 451.77,62.54 452.64,62.01 453.50,61.49 454.37,60.98 455.23,60.47 456.10,59.97 456.96,59.47 457.83,58.99 458.69,58.51 459.56,58.03 460.42,57.56 461.29,57.10 462.15,56.64 463.02,56.19 463.88,55.74 464.75,55.30 465.61,54.87 466.48,54.44 467.34,54.02 468.21,53.60 469.07,53.19 469.94,52.78 470.80,52.38 471.67,51.98 472.53,51.59 473.40,51.20 474.26,50.82 475.13,50.44 475.99,50.07 476.86,49.70 477.73,49.34 478.59,48.98 479.46,48.63 480.32,48.28 481.19,47.93 482.05,47.59 482.92,47.25 483.78,46.92 484.65,46.59 485.51,46.27 486.38,45.95 487.24,45.63 488.11,45.32 488.97,45.01 489.84,44.71 490.70,44.40 491.57,44.11 492.43,43.81 493.30,43.52 494.16,43.24 495.03,42.95 495.89,42.68 496.76,42.40 497.62,42.13 498.49,41.86 499.35,41.59 500.22,41.33 501.08,41.07 501.95,40.81 502.81,40.56 503.68,40.31 504.54,40.06 505.41,39.82 506.27,39.58 507.14,39.34 508.00,39.10 508.87,38.87 509.73,38.64 510.60,38.41" fill="none" stroke="#ff0000" stroke-width="1.0" stroke-dasharray="1.9 1.3"/>
<circle cx="338.44" cy="176.30" r="1.76" fill="#ff0000"/>
<circle cx="343.66" cy="176.13" r="1.76" fill="#ff0000"/>
<circle cx="348.87" cy="174.79" r="1.76" fill="#ff0000"/>
<circle cx="354.09" cy="171.56" r="1.76" fill="#ff0000"/>
<circle cx="359.31" cy="166.56" r="1.76" fill="#ff0000"/>
<circle cx="364.52" cy="160.22" r="1.76" fill="#ff0000"/>
<circle cx="369.74" cy="153.04" r="1.76" fill="#ff0000"/>
<circle cx="374.96" cy="145.42" r="1.76" fill="#ff0000"/>
<circle cx="380.18" cy="137.66" r="1.76" fill="#ff0000"/>
<circle cx="385.39" cy="129.99" r="1.76" fill="#ff0000"/>
<circle cx="390.61" cy="122.54" r="1.76" fill="#ff0000"/>
<circle cx="395.83" cy="115.41" r="1.76" fill="#ff0000"/>
<circle cx="401.04" cy="108.64" r="1.76" fill="#ff0000"/>
<circle cx="406.26" cy="102.28" r="1.76" fill="#ff0000"/>
<circle cx="411.48" cy="96.32" r="1.76" fill="#ff0000"/>
<circle cx="416.69" cy="90.77" r="1.76" fill="#ff0000"/>
<circle cx="421.91" cy="85.60" r="1.76" fill="#ff0000"/>
<circle cx="427.13" cy="80.80" r="1.76" fill="#ff0000"/>
<circle cx="432.35" cy="76.36" r="1.76" fill="#ff0000"/>
<circle cx="437.56" cy="72.25" r="1.76" fill="#ff0000"/>
<circle cx="442.78" cy="68.44" r="1.76" fill="#ff0000"/>
<circle cx="448.00" cy="64.92" r="1.76" fill="#ff0000"/>
<circle cx="453.21" cy="61.66" r="1.76" fill="#ff0000"/>
<circle cx="458.43" cy="58.65" r="1.76" fill="#ff0000"/>
<circle cx="463.65" cy="55.86" r="1.76" fill="#ff0000"/>
<circle cx="468.86" cy="53.29" r="1.76" fill="#ff0000"/>
<circle cx="474.08" cy="50.90" r="1.76" fill="#ff0000"/>
<circle cx="479.30" cy="48.69" r="1.76" fill="#ff0000"/>
<circle cx="484.51" cy="46.64" r="1.76" fill="#ff0000"/>
<circle cx="489.73" cy="44.74" r="1.76" fill="#ff0000"/>
<circle cx="494.95" cy="42.98" r="1.76" fill="#ff0000"/>
<circle cx="500.17" cy="41.34" r="1.76" fill="#ff0000"/>
<circle cx="505.38" cy="39.83" r="1.76" fill="#ff0000"/>
<circle cx="510.60" cy="38.41" r="1.76" fill="#ff0000"/>
<polyline points="338.44,176.30 339.30,176.30 340.17,176.29 341.03,176.28 341.90,176.25 342.76,176.20 343.63,176.12 344.49,176.02 345.36,175.88 346.23,175.71 347.09,175.50 347.96,175.25 348.82,174.95 349.69,174.62 350.55,174.24 351.42,173.82 352.28,173.36 353.15,172.86 354.01,172.32 354.88,171.75 355.74,171.14 356.61,170.49 357.47,169.81 358.34,169.09 359.20,168.35 360.07,167.58 360.93,166.78 361.80,165.96 362.66,165.11 363.53,164.25 364.39,163.36 365.26,162.45 366.12,161.52 366.99,160.58 367.85,159.63 368.72,158.66 369.58,157.67 370.45,156.68 371.31,155.67 372.18,154.66 373.04,153.64 373.91,152.61 374.77,151.58 375.64,150.54 376.50,149.50 377.37,148.45 378.24,147.40 379.10,146.35 379.97,145.30 380.83,144.24 381.70,143.19 382.56,142.13 383.43,141.08 384.29,140.03 385.16,138.98 386.02,137.93 386.89,136.89 387.75,135.85 388.62,134.81 389.48,133.78 390.35,132.75 391.21,131.73 392.08,130.71 392.94,129.69 393.81,128.68 394.67,127.68 395.54,126.68 396.40,125.69 397.27,124.70 398.13,123.72 399.00,122.75 399.86,121.78 400.73,120.82 401.59,119.87 402.46,118.92 403.32,117.98 404.19,117.05 405.05,116.13 405.92,115.21 406.78,114.30 407.65,113.40 408.51,112.50 409.38,111.61 410.24,110.73 411.11,109.86 411.98,108.99 412.84,108.13 413.71,107.28 414.57,106.44 415.44,105.61 416.30,104.78 417.17,103.96 418.03,103.15 418.90,102.34 419.76,101.54 420.63,100.75 421.49,99.97 422.36,99.19 423.22,98.43 424.09,97.67 424.95,96.91 425.82,96.17 426.68,95.43 427.55,94.70 428.41,93.97 429.28,93.25 430.14,92.54 431.01,91.84 431.87,91.14 432.74,90.46 433.60,89.77 434.47,89.10 435.33,88.43 436.20,87.77 437.06,87.11 437.93,86.46 438.79,85.82 439.66,85.18 440.52,84.55 441.39,83.93 442.25,83.31 443.12,82.70 443.98,82.10 444.85,81.50 445.72,80.91 446.58,80.32 447.45,79.74 448.31,79.17 449.18,78.60 450.04,78.04 450.91,77.48 451.77,76.93 452.64,76.39 453.50,75.85 454.37,75.31 455.23,74.78 456.10,74.26 456.96,73.74 457.83,73.23 458.69,72.72 459.56,72.22 460.42,71.73 461.29,71.23 462.15,70.75 463.02,70.27 463.88,69.79 464.75,69.32 465.61,68.85 466.48,68.39 467.34,67.93 468.21,67.48 469.07,67.03 469.94,66.59 470.80,66.15 471.67,65.71 472.53,65.28 473.40,64.86 474.26,64.44 475.13,64.02 475.99,63.61 476.86,63.20 477.73,62.79 478.59,62.39 479.46,62.00 480.32,61.60 481.19,61.22 482.05,60.83 482.92,60.45 483.78,60.08 484.65,59.70 485.51,59.33 486.38,58.97 487.24,58.61 488.11,58.25 488.97,57.89 489.84,57.54 490.70,57.20 491.57,56.85 492.43,56.51 493.30,56.17 494.16,55.84 495.03,55.51 495.89,55.18 496.76,54.86 497.62,54.54 498.49,54.22 499.35,53.91 500.22,53.60 501.08,53.29 501.95,52.98 502.81,52.68 503.68,52.38 504.54,52.09 505.41,51.79 506.27,51.50 507.14,51.22 508.00,50.93 508.87,50.65 509.73,50.37 510.60,50.09" fill="none" stroke="#1b8fd6" stroke-width="1.0"/>
<circle cx="338.44" cy="176.30" r="1.76" fill="#0072bd"/>
<circle cx="343.66" cy="176.12" r="1.76" fill="#0072bd"/>
<circle cx="348.87" cy="174.93" r="1.76" fill="#0072bd"/>
<circle cx="354.09" cy="172.27" r="1.76" fill="#0072bd"/>
<circle cx="359.31" cy="168.26" r="1.76" fill="#0072bd"/>
<circle cx="364.52" cy="163.22" r="1.76" fill="#0072bd"/>
<circle cx="369.74" cy="157.49" r="1.76" fill="#0072bd"/>
<circle cx="374.96" cy="151.36" r="1.76" fill="#0072bd"/>
<circle cx="380.18" cy="145.04" r="1.76" fill="#0072bd"/>
<circle cx="385.39" cy="138.70" r="1.76" fill="#0072bd"/>
<circle cx="390.61" cy="132.44" r="1.76" fill="#0072bd"/>
<circle cx="395.83" cy="126.35" r="1.76" fill="#0072bd"/>
<circle cx="401.04" cy="120.47" r="1.76" fill="#0072bd"/>
<circle cx="406.26" cy="114.85" r="1.76" fill="#0072bd"/>
<circle cx="411.48" cy="109.49" r="1.76" fill="#0072bd"/>
<circle cx="416.69" cy="104.40" r="1.76" fill="#0072bd"/>
<circle cx="421.91" cy="99.59" r="1.76" fill="#0072bd"/>
<circle cx="427.13" cy="95.05" r="1.76" fill="#0072bd"/>
<circle cx="432.35" cy="90.77" r="1.76" fill="#0072bd"/>
<circle cx="437.56" cy="86.74" r="1.76" fill="#0072bd"/>
<circle cx="442.78" cy="82.94" r="1.76" fill="#0072bd"/>
<circle cx="448.00" cy="79.38" r="1.76" fill="#0072bd"/>
<circle cx="453.21" cy="76.03" r="1.76" fill="#0072bd"/>
<circle cx="458.43" cy="72.88" r="1.76" fill="#0072bd"/>
<circle cx="463.65" cy="69.92" r="1.76" fill="#0072bd"/>
<circle cx="468.86" cy="67.14" r="1.76" fill="#0072bd"/>
<circle cx="474.08" cy="64.53" r="1.76" fill="#0072bd"/>
<circle cx="479.30" cy="62.07" r="1.76" fill="#0072bd"/>
<circle cx="484.51" cy="59.76" r="1.76" fill="#0072bd"/>
<circle cx="489.73" cy="57.59" r="1.76" fill="#0072bd"/>
<circle cx="494.95" cy="55.54" r="1.76" fill="#0072bd"/>
<circle cx="500.17" cy="53.62" r="1.76" fill="#0072bd"/>
<circle cx="505.38" cy="51.80" r="1.76" fill="#0072bd"/>
<circle cx="510.60" cy="50.09" r="1.76" fill="#0072bd"/>
<polyline points="338.44,176.27 339.30,176.09 340.17,175.64 341.03,174.82 341.90,173.59 342.76,171.96 343.63,169.94 344.49,167.58 345.36,164.92 346.23,162.02 347.09,158.91 347.96,155.66 348.82,152.28 349.69,148.83 350.55,145.33 351.42,141.80 352.28,138.27 353.15,134.75 354.01,131.27 354.88,127.83 355.74,124.45 356.61,121.13 357.47,117.88 358.34,114.71 359.20,111.61 360.07,108.59 360.93,105.66 361.80,102.81 362.66,100.05 363.53,97.36 364.39,94.77 365.26,92.25 366.12,89.82 366.99,87.46 367.85,85.19 368.72,82.99 369.58,80.86 370.45,78.81 371.31,76.83 372.18,74.91 373.04,73.06 373.91,71.28 374.77,69.56 375.64,67.89 376.50,66.29 377.37,64.74 378.24,63.24 379.10,61.80 379.97,60.41 380.83,59.06 381.70,57.77 382.56,56.51 383.43,55.30 384.29,54.14 385.16,53.01 386.02,51.92 386.89,50.87 387.75,49.85 388.62,48.87 389.48,47.92 390.35,47.01 391.21,46.12 392.08,45.27 392.94,44.44 393.81,43.64 394.67,42.87 395.54,42.12 396.40,41.40 397.27,40.70 398.13,40.02 399.00,39.37 399.86,38.73 400.73,38.12 401.59,37.53 402.46,36.95 403.32,36.40 404.19,35.86 405.05,35.34 405.92,34.83 406.78,34.34 407.65,33.87 408.51,33.41 409.38,32.97 410.24,32.54 411.11,32.12 411.98,31.71 412.84,31.32 413.71,30.94 414.57,30.57 415.44,30.21 416.30,29.86 417.17,29.52 418.03,29.20 418.90,28.88 419.76,28.57 420.63,28.27 421.49,27.98 422.36,27.70 423.22,27.42 424.09,27.16 424.95,26.90 425.82,26.64 426.68,26.40 427.55,26.16 428.41,25.93 429.28,25.71 430.14,25.49 431.01,25.28 431.87,25.07 432.74,24.87 433.60,24.68 434.47,24.49 435.33,24.30 436.20,24.12 437.06,23.95 437.93,23.78 438.79,23.61 439.66,23.45 440.52,23.29 441.39,23.14 442.25,22.99 443.12,22.85 443.98,22.71 444.85,22.57 445.72,22.43 446.58,22.30 447.45,22.18 448.31,22.05 449.18,21.93 450.04,21.82 450.91,21.70 451.77,21.59 452.64,21.48 453.50,21.37 454.37,21.27 455.23,21.17 456.10,21.07 456.96,20.98 457.83,20.88 458.69,20.79 459.56,20.70 460.42,20.61 461.29,20.53 462.15,20.45 463.02,20.37 463.88,20.29 464.75,20.21 465.61,20.13 466.48,20.06 467.34,19.99 468.21,19.92 469.07,19.85 469.94,19.78 470.80,19.72 471.67,19.65 472.53,19.59 473.40,19.53 474.26,19.47 475.13,19.41 475.99,19.36 476.86,19.30 477.73,19.25 478.59,19.19 479.46,19.14 480.32,19.09 481.19,19.04 482.05,18.99 482.92,18.95 483.78,18.90 484.65,18.86 485.51,18.81 486.38,18.77 487.24,18.73 488.11,18.68 488.97,18.64 489.84,18.60 490.70,18.57 491.57,18.53 492.43,18.49 493.30,18.45 494.16,18.42 495.03,18.38 495.89,18.35 496.76,18.32 497.62,18.28 498.49,18.25 499.35,18.22 500.22,18.19 501.08,18.16 501.95,18.13 502.81,18.10 503.68,18.07 504.54,18.05 505.41,18.02 506.27,17.99 507.14,17.97 508.00,17.94 508.87,17.92 509.73,17.89 510.60,17.87" fill="none" stroke="#ff0000" stroke-width="1.0" stroke-dasharray="1.9 1.3"/>
<rect x="336.84" y="174.67" width="3.19" height="3.19" rx="0.6" fill="#ff0000"/>
<rect x="342.06" y="168.28" width="3.19" height="3.19" rx="0.6" fill="#ff0000"/>
<rect x="347.28" y="150.48" width="3.19" height="3.19" rx="0.6" fill="#ff0000"/>
<rect x="352.49" y="129.36" width="3.19" height="3.19" rx="0.6" fill="#ff0000"/>
<rect x="357.71" y="109.64" width="3.19" height="3.19" rx="0.6" fill="#ff0000"/>
<rect x="362.93" y="92.79" width="3.19" height="3.19" rx="0.6" fill="#ff0000"/>
<rect x="368.15" y="78.89" width="3.19" height="3.19" rx="0.6" fill="#ff0000"/>
<rect x="373.36" y="67.60" width="3.19" height="3.19" rx="0.6" fill="#ff0000"/>
<rect x="378.58" y="58.48" width="3.19" height="3.19" rx="0.6" fill="#ff0000"/>
<rect x="383.80" y="51.11" width="3.19" height="3.19" rx="0.6" fill="#ff0000"/>
<rect x="389.01" y="45.14" width="3.19" height="3.19" rx="0.6" fill="#ff0000"/>
<rect x="394.23" y="40.28" width="3.19" height="3.19" rx="0.6" fill="#ff0000"/>
<rect x="399.45" y="36.31" width="3.19" height="3.19" rx="0.6" fill="#ff0000"/>
<rect x="404.66" y="33.04" width="3.19" height="3.19" rx="0.6" fill="#ff0000"/>
<rect x="409.88" y="30.35" width="3.19" height="3.19" rx="0.6" fill="#ff0000"/>
<rect x="415.10" y="28.11" width="3.19" height="3.19" rx="0.6" fill="#ff0000"/>
<rect x="420.32" y="26.25" width="3.19" height="3.19" rx="0.6" fill="#ff0000"/>
<rect x="425.53" y="24.68" width="3.19" height="3.19" rx="0.6" fill="#ff0000"/>
<rect x="430.75" y="23.37" width="3.19" height="3.19" rx="0.6" fill="#ff0000"/>
<rect x="435.97" y="22.25" width="3.19" height="3.19" rx="0.6" fill="#ff0000"/>
<rect x="441.18" y="21.31" width="3.19" height="3.19" rx="0.6" fill="#ff0000"/>
<rect x="446.40" y="20.50" width="3.19" height="3.19" rx="0.6" fill="#ff0000"/>
<rect x="451.62" y="19.81" width="3.19" height="3.19" rx="0.6" fill="#ff0000"/>
<rect x="456.83" y="19.22" width="3.19" height="3.19" rx="0.6" fill="#ff0000"/>
<rect x="462.05" y="18.71" width="3.19" height="3.19" rx="0.6" fill="#ff0000"/>
<rect x="467.27" y="18.27" width="3.19" height="3.19" rx="0.6" fill="#ff0000"/>
<rect x="472.49" y="17.89" width="3.19" height="3.19" rx="0.6" fill="#ff0000"/>
<rect x="477.70" y="17.56" width="3.19" height="3.19" rx="0.6" fill="#ff0000"/>
<rect x="482.92" y="17.27" width="3.19" height="3.19" rx="0.6" fill="#ff0000"/>
<rect x="488.14" y="17.01" width="3.19" height="3.19" rx="0.6" fill="#ff0000"/>
<rect x="493.35" y="16.79" width="3.19" height="3.19" rx="0.6" fill="#ff0000"/>
<rect x="498.57" y="16.60" width="3.19" height="3.19" rx="0.6" fill="#ff0000"/>
<rect x="503.79" y="16.42" width="3.19" height="3.19" rx="0.6" fill="#ff0000"/>
<rect x="509.00" y="16.27" width="3.19" height="3.19" rx="0.6" fill="#ff0000"/>
<polyline points="338.44,176.27 339.30,176.13 340.17,175.79 341.03,175.18 341.90,174.29 342.76,173.10 343.63,171.64 344.49,169.92 345.36,167.97 346.23,165.83 347.09,163.52 347.96,161.08 348.82,158.53 349.69,155.88 350.55,153.18 351.42,150.42 352.28,147.64 353.15,144.84 354.01,142.03 354.88,139.23 355.74,136.45 356.61,133.69 357.47,130.96 358.34,128.26 359.20,125.61 360.07,123.00 360.93,120.43 361.80,117.91 362.66,115.45 363.53,113.03 364.39,110.67 365.26,108.36 366.12,106.10 366.99,103.90 367.85,101.75 368.72,99.65 369.58,97.61 370.45,95.62 371.31,93.68 372.18,91.79 373.04,89.94 373.91,88.15 374.77,86.41 375.64,84.71 376.50,83.05 377.37,81.45 378.24,79.88 379.10,78.36 379.97,76.88 380.83,75.43 381.70,74.03 382.56,72.67 383.43,71.34 384.29,70.05 385.16,68.79 386.02,67.57 386.89,66.38 387.75,65.22 388.62,64.10 389.48,63.00 390.35,61.94 391.21,60.90 392.08,59.89 392.94,58.91 393.81,57.95 394.67,57.02 395.54,56.11 396.40,55.23 397.27,54.37 398.13,53.53 399.00,52.72 399.86,51.92 400.73,51.15 401.59,50.40 402.46,49.67 403.32,48.95 404.19,48.25 405.05,47.58 405.92,46.91 406.78,46.27 407.65,45.64 408.51,45.03 409.38,44.43 410.24,43.85 411.11,43.28 411.98,42.73 412.84,42.19 413.71,41.66 414.57,41.15 415.44,40.65 416.30,40.16 417.17,39.68 418.03,39.21 418.90,38.76 419.76,38.32 420.63,37.88 421.49,37.46 422.36,37.05 423.22,36.65 424.09,36.25 424.95,35.87 425.82,35.49 426.68,35.13 427.55,34.77 428.41,34.42 429.28,34.08 430.14,33.74 431.01,33.42 431.87,33.10 432.74,32.78 433.60,32.48 434.47,32.18 435.33,31.89 436.20,31.61 437.06,31.33 437.93,31.06 438.79,30.79 439.66,30.53 440.52,30.27 441.39,30.02 442.25,29.78 443.12,29.54 443.98,29.31 444.85,29.08 445.72,28.86 446.58,28.64 447.45,28.42 448.31,28.21 449.18,28.01 450.04,27.81 450.91,27.61 451.77,27.42 452.64,27.23 453.50,27.05 454.37,26.87 455.23,26.69 456.10,26.51 456.96,26.34 457.83,26.18 458.69,26.01 459.56,25.86 460.42,25.70 461.29,25.54 462.15,25.39 463.02,25.25 463.88,25.10 464.75,24.96 465.61,24.82 466.48,24.69 467.34,24.55 468.21,24.42 469.07,24.29 469.94,24.17 470.80,24.04 471.67,23.92 472.53,23.80 473.40,23.69 474.26,23.57 475.13,23.46 475.99,23.35 476.86,23.24 477.73,23.14 478.59,23.03 479.46,22.93 480.32,22.83 481.19,22.73 482.05,22.64 482.92,22.54 483.78,22.45 484.65,22.36 485.51,22.27 486.38,22.18 487.24,22.10 488.11,22.01 488.97,21.93 489.84,21.85 490.70,21.77 491.57,21.69 492.43,21.61 493.30,21.53 494.16,21.46 495.03,21.39 495.89,21.31 496.76,21.24 497.62,21.17 498.49,21.11 499.35,21.04 500.22,20.97 501.08,20.91 501.95,20.84 502.81,20.78 503.68,20.72 504.54,20.66 505.41,20.60 506.27,20.54 507.14,20.48 508.00,20.43 508.87,20.37 509.73,20.32 510.60,20.26" fill="none" stroke="#1b8fd6" stroke-width="1.0"/>
<rect x="336.84" y="174.67" width="3.19" height="3.19" rx="0.6" fill="#0072bd"/>
<rect x="342.06" y="169.99" width="3.19" height="3.19" rx="0.6" fill="#0072bd"/>
<rect x="347.28" y="156.77" width="3.19" height="3.19" rx="0.6" fill="#0072bd"/>
<rect x="352.49" y="140.18" width="3.19" height="3.19" rx="0.6" fill="#0072bd"/>
<rect x="357.71" y="123.69" width="3.19" height="3.19" rx="0.6" fill="#0072bd"/>
<rect x="362.93" y="108.72" width="3.19" height="3.19" rx="0.6" fill="#0072bd"/>
<rect x="368.15" y="95.65" width="3.19" height="3.19" rx="0.6" fill="#0072bd"/>
<rect x="373.36" y="84.45" width="3.19" height="3.19" rx="0.6" fill="#0072bd"/>
<rect x="378.58" y="74.93" width="3.19" height="3.19" rx="0.6" fill="#0072bd"/>
<rect x="383.80" y="66.86" width="3.19" height="3.19" rx="0.6" fill="#0072bd"/>
<rect x="389.01" y="60.02" width="3.19" height="3.19" rx="0.6" fill="#0072bd"/>
<rect x="394.23" y="54.22" width="3.19" height="3.19" rx="0.6" fill="#0072bd"/>
<rect x="399.45" y="49.28" width="3.19" height="3.19" rx="0.6" fill="#0072bd"/>
<rect x="404.66" y="45.06" width="3.19" height="3.19" rx="0.6" fill="#0072bd"/>
<rect x="409.88" y="41.45" width="3.19" height="3.19" rx="0.6" fill="#0072bd"/>
<rect x="415.10" y="38.34" width="3.19" height="3.19" rx="0.6" fill="#0072bd"/>
<rect x="420.32" y="35.66" width="3.19" height="3.19" rx="0.6" fill="#0072bd"/>
<rect x="425.53" y="33.34" width="3.19" height="3.19" rx="0.6" fill="#0072bd"/>
<rect x="430.75" y="31.33" width="3.19" height="3.19" rx="0.6" fill="#0072bd"/>
<rect x="435.97" y="29.58" width="3.19" height="3.19" rx="0.6" fill="#0072bd"/>
<rect x="441.18" y="28.04" width="3.19" height="3.19" rx="0.6" fill="#0072bd"/>
<rect x="446.40" y="26.70" width="3.19" height="3.19" rx="0.6" fill="#0072bd"/>
<rect x="451.62" y="25.51" width="3.19" height="3.19" rx="0.6" fill="#0072bd"/>
<rect x="456.83" y="24.47" width="3.19" height="3.19" rx="0.6" fill="#0072bd"/>
<rect x="462.05" y="23.55" width="3.19" height="3.19" rx="0.6" fill="#0072bd"/>
<rect x="467.27" y="22.73" width="3.19" height="3.19" rx="0.6" fill="#0072bd"/>
<rect x="472.49" y="22.00" width="3.19" height="3.19" rx="0.6" fill="#0072bd"/>
<rect x="477.70" y="21.36" width="3.19" height="3.19" rx="0.6" fill="#0072bd"/>
<rect x="482.92" y="20.78" width="3.19" height="3.19" rx="0.6" fill="#0072bd"/>
<rect x="488.14" y="20.26" width="3.19" height="3.19" rx="0.6" fill="#0072bd"/>
<rect x="493.35" y="19.80" width="3.19" height="3.19" rx="0.6" fill="#0072bd"/>
<rect x="498.57" y="19.38" width="3.19" height="3.19" rx="0.6" fill="#0072bd"/>
<rect x="503.79" y="19.01" width="3.19" height="3.19" rx="0.6" fill="#0072bd"/>
<rect x="509.00" y="18.67" width="3.19" height="3.19" rx="0.6" fill="#0072bd"/>
</g>
<line x1="336.70" y1="176.3" x2="336.70" y2="174.3" stroke="#858585" stroke-width="0.8"/>
<line x1="336.7" y1="176.30" x2="338.7" y2="176.30" stroke="#858585" stroke-width="0.8"/>
<line x1="354.09" y1="176.3" x2="354.09" y2="175.0" stroke="#858585" stroke-width="0.8"/>
<line x1="336.7" y1="160.32" x2="338.0" y2="160.32" stroke="#858585" stroke-width="0.8"/>
<line x1="371.48" y1="176.3" x2="371.48" y2="174.3" stroke="#858585" stroke-width="0.8"/>
<line x1="336.7" y1="144.34" x2="338.7" y2="144.34" stroke="#858585" stroke-width="0.8"/>
<line x1="388.87" y1="176.3" x2="388.87" y2="175.0" stroke="#858585" stroke-width="0.8"/>
<line x1="336.7" y1="128.36" x2="338.0" y2="128.36" stroke="#858585" stroke-width="0.8"/>
<line x1="406.26" y1="176.3" x2="406.26" y2="174.3" stroke="#858585" stroke-width="0.8"/>
<line x1="336.7" y1="112.38" x2="338.7" y2="112.38" stroke="#858585" stroke-width="0.8"/>
<line x1="423.65" y1="176.3" x2="423.65" y2="175.0" stroke="#858585" stroke-width="0.8"/>
<line x1="336.7" y1="96.40" x2="338.0" y2="96.40" stroke="#858585" stroke-width="0.8"/>
<line x1="441.04" y1="176.3" x2="441.04" y2="174.3" stroke="#858585" stroke-width="0.8"/>
<line x1="336.7" y1="80.42" x2="338.7" y2="80.42" stroke="#858585" stroke-width="0.8"/>
<line x1="458.43" y1="176.3" x2="458.43" y2="175.0" stroke="#858585" stroke-width="0.8"/>
<line x1="336.7" y1="64.44" x2="338.0" y2="64.44" stroke="#858585" stroke-width="0.8"/>
<line x1="475.82" y1="176.3" x2="475.82" y2="174.3" stroke="#858585" stroke-width="0.8"/>
<line x1="336.7" y1="48.46" x2="338.7" y2="48.46" stroke="#858585" stroke-width="0.8"/>
<line x1="493.21" y1="176.3" x2="493.21" y2="175.0" stroke="#858585" stroke-width="0.8"/>
<line x1="336.7" y1="32.48" x2="338.0" y2="32.48" stroke="#858585" stroke-width="0.8"/>
<line x1="510.60" y1="176.3" x2="510.60" y2="174.3" stroke="#858585" stroke-width="0.8"/>
<line x1="336.7" y1="16.50" x2="338.7" y2="16.50" stroke="#858585" stroke-width="0.8"/>
<text x="336.70" y="187.60" text-anchor="middle" class="tk" font-size="10.4">0.0</text>
<text x="334.30" y="179.80" text-anchor="end" class="tk" font-size="10.4">0.0</text>
<text x="371.48" y="187.60" text-anchor="middle" class="tk" font-size="10.4">0.2</text>
<text x="334.30" y="147.84" text-anchor="end" class="tk" font-size="10.4">0.2</text>
<text x="406.26" y="187.60" text-anchor="middle" class="tk" font-size="10.4">0.4</text>
<text x="334.30" y="115.88" text-anchor="end" class="tk" font-size="10.4">0.4</text>
<text x="441.04" y="187.60" text-anchor="middle" class="tk" font-size="10.4">0.6</text>
<text x="334.30" y="83.92" text-anchor="end" class="tk" font-size="10.4">0.6</text>
<text x="475.82" y="187.60" text-anchor="middle" class="tk" font-size="10.4">0.8</text>
<text x="334.30" y="51.96" text-anchor="end" class="tk" font-size="10.4">0.8</text>
<text x="510.60" y="187.60" text-anchor="middle" class="tk" font-size="10.4">1.0</text>
<text x="334.30" y="20.00" text-anchor="end" class="tk" font-size="10.4">1.0</text>
<text x="136" y="193.8" text-anchor="middle" class="tk" font-size="9.4">PGA/g</text>
<text x="421.9" y="201.5" text-anchor="middle" class="tk" font-size="10.5">PGA/g</text>
<g transform="translate(27.4,136.8) rotate(-90)"><text x="0.10" y="0.00" class="yl" font-size="9.0" textLength="4.57" lengthAdjust="spacingAndGlyphs">F</text><text x="5.14 10.65 15.41 19.17 24.68 28.94 38.21 43.72 47.73 52.49 57.50 62.01 67.77 72.53 77.29 82.05 85.81" y="0.00" class="yl" font-size="9.0">ailureprobability</text></g>
<g transform="translate(320.4,147.8) rotate(-90)"><text x="0.11" y="0.00" class="yl2" font-size="11.2" textLength="5.07" lengthAdjust="spacingAndGlyphs">F</text><text x="21.23" y="0.00" class="yl2" font-size="11.2" textLength="5.07" lengthAdjust="spacingAndGlyphs">u</text><text x="42.35" y="0.00" class="yl2" font-size="11.2" textLength="5.07" lengthAdjust="spacingAndGlyphs">p</text><text x="52.91" y="0.00" class="yl2" font-size="11.2" textLength="5.07" lengthAdjust="spacingAndGlyphs">o</text><text x="58.19" y="0.00" class="yl2" font-size="11.2" textLength="5.07" lengthAdjust="spacingAndGlyphs">b</text><text x="68.75" y="0.00" class="yl2" font-size="11.2" textLength="5.07" lengthAdjust="spacingAndGlyphs">b</text><text x="95.15" y="0.00" class="yl2" font-size="11.2" textLength="5.07" lengthAdjust="spacingAndGlyphs">y</text><text x="5.43 11.64 16.92 27.18 31.83 48.30 63.51 75.00 80.28 85.56 90.84" y="0.00" class="yl2" font-size="11.2">ailrerailit</text></g>
<text x="9" y="284.2" class="cap" letter-spacing="0.09">(<tspan font-weight="bold">a</tspan>) Upper bound in longitudinal direction.</text>
<text x="290.7" y="284.2" class="cap" letter-spacing="0.07">(<tspan font-weight="bold">b</tspan>) Lower bound in longitudinal direction.</text>
<text x="43.31" y="207.30" class="lg" font-size="11.2" textLength="5.15" lengthAdjust="spacingAndGlyphs">C</text><text x="48.67" y="207.30" class="lg" font-size="11.2" textLength="5.15" lengthAdjust="spacingAndGlyphs">o</text><text x="54.03" y="207.30" class="lg" font-size="11.2" textLength="5.15" lengthAdjust="spacingAndGlyphs">n</text><text x="59.47 65.46 70.19 76.48 80.91" y="207.30" class="lg" font-size="11.2">crete</text>
<line x1="42.8" y1="215.3" x2="63.3" y2="215.3" stroke="#ff0000" stroke-width="1.0" stroke-dasharray="1.9 1.3"/>
<rect x="52.70" y="214.00" width="2.61" height="2.61" rx="0.6" fill="#ff0000"/>
<text x="86.19" y="219.10" class="lg" font-size="11.2" textLength="5.15" lengthAdjust="spacingAndGlyphs">g</text><text x="91.55" y="219.10" class="lg" font-size="11.2" textLength="5.15" lengthAdjust="spacingAndGlyphs">h</text><text x="70.50 76.48 81.84 97.92" y="219.10" class="lg" font-size="11.2">slit</text>
<line x1="42.8" y1="227" x2="63.3" y2="227" stroke="#ff0000" stroke-width="1.0" stroke-dasharray="1.9 1.3"/>
<circle cx="54.00" cy="227.00" r="1.44" fill="#ff0000"/>
<text x="70.11" y="230.80" class="lg" font-size="11.2" textLength="5.15" lengthAdjust="spacingAndGlyphs">m</text><text x="75.47" y="230.80" class="lg" font-size="11.2" textLength="5.15" lengthAdjust="spacingAndGlyphs">o</text><text x="80.83" y="230.80" class="lg" font-size="11.2" textLength="5.15" lengthAdjust="spacingAndGlyphs">d</text><text x="86.27 92.26 96.99 103.28 107.71" y="230.80" class="lg" font-size="11.2">erate</text>
<line x1="42.8" y1="238.9" x2="63.3" y2="238.9" stroke="#ff0000" stroke-width="1.0" stroke-dasharray="1.9 1.3"/>
<path d="M54.00 237.19L55.71 240.18L52.29 240.18Z" fill="#ff0000"/>
<text x="91.55" y="242.70" class="lg" font-size="11.2" textLength="5.15" lengthAdjust="spacingAndGlyphs">o</text><text x="96.91" y="242.70" class="lg" font-size="11.2" textLength="5.15" lengthAdjust="spacingAndGlyphs">u</text><text x="70.50 75.55 81.54 87.20 102.66" y="242.70" class="lg" font-size="11.2">seris</text>
<line x1="42.8" y1="250.4" x2="63.3" y2="250.4" stroke="#ff0000" stroke-width="1.0" stroke-dasharray="1.9 1.3"/>
<path d="M54.00 248.69L55.71 250.40L54.00 252.11L52.29 250.40Z" fill="#ff0000"/>
<text x="75.47" y="254.20" class="lg" font-size="11.2" textLength="5.15" lengthAdjust="spacingAndGlyphs">o</text><text x="80.83" y="254.20" class="lg" font-size="11.2" textLength="5.15" lengthAdjust="spacingAndGlyphs">m</text><text x="86.19" y="254.20" class="lg" font-size="11.2" textLength="5.15" lengthAdjust="spacingAndGlyphs">p</text><text x="70.19 92.56 96.99 103.28 107.71" y="254.20" class="lg" font-size="11.2">clete</text>
<text x="156.90" y="206.70" class="lg" font-size="11.2" textLength="4.95" lengthAdjust="spacingAndGlyphs">S</text><text x="193.02" y="206.70" class="lg" font-size="11.2" textLength="4.95" lengthAdjust="spacingAndGlyphs">o</text><text x="198.18" y="206.70" class="lg" font-size="11.2" textLength="4.95" lengthAdjust="spacingAndGlyphs">n</text><text x="162.98 167.21 172.37 178.46 183.32 187.85 203.33 209.12 213.65 219.74 223.97" y="206.70" class="lg" font-size="11.2">teel-ccrete</text>
<line x1="156.6" y1="214.4" x2="177.7" y2="214.4" stroke="#1b8fd6" stroke-width="1.0"/>
<rect x="166.09" y="213.09" width="2.61" height="2.61" rx="0.6" fill="#0072bd"/>
<text x="197.98" y="218.20" class="lg" font-size="11.2" textLength="4.95" lengthAdjust="spacingAndGlyphs">g</text><text x="203.14" y="218.20" class="lg" font-size="11.2" textLength="4.95" lengthAdjust="spacingAndGlyphs">h</text><text x="182.80 188.58 193.74 209.22" y="218.20" class="lg" font-size="11.2">slit</text>
<line x1="156.6" y1="225.7" x2="177.7" y2="225.7" stroke="#1b8fd6" stroke-width="1.0"/>
<circle cx="167.40" cy="225.70" r="1.44" fill="#0072bd"/>
<text x="182.50" y="229.50" class="lg" font-size="11.2" textLength="4.95" lengthAdjust="spacingAndGlyphs">m</text><text x="187.66" y="229.50" class="lg" font-size="11.2" textLength="4.95" lengthAdjust="spacingAndGlyphs">o</text><text x="192.82" y="229.50" class="lg" font-size="11.2" textLength="4.95" lengthAdjust="spacingAndGlyphs">d</text><text x="197.97 203.76 208.29 214.38 218.61" y="229.50" class="lg" font-size="11.2">erate</text>
<line x1="156.6" y1="237" x2="177.7" y2="237" stroke="#1b8fd6" stroke-width="1.0"/>
<path d="M167.40 235.29L169.11 238.28L165.69 238.28Z" fill="#0072bd"/>
<text x="203.14" y="240.80" class="lg" font-size="11.2" textLength="4.95" lengthAdjust="spacingAndGlyphs">o</text><text x="208.30" y="240.80" class="lg" font-size="11.2" textLength="4.95" lengthAdjust="spacingAndGlyphs">u</text><text x="182.80 187.65 193.44 198.90 213.76" y="240.80" class="lg" font-size="11.2">seris</text>
<line x1="156.6" y1="248.6" x2="177.7" y2="248.6" stroke="#1b8fd6" stroke-width="1.0"/>
<path d="M167.40 246.89L169.11 248.60L167.40 250.31L165.69 248.60Z" fill="#0072bd"/>
<text x="187.66" y="252.40" class="lg" font-size="11.2" textLength="4.95" lengthAdjust="spacingAndGlyphs">o</text><text x="192.82" y="252.40" class="lg" font-size="11.2" textLength="4.95" lengthAdjust="spacingAndGlyphs">m</text><text x="197.98" y="252.40" class="lg" font-size="11.2" textLength="4.95" lengthAdjust="spacingAndGlyphs">p</text><text x="182.49 204.06 208.29 214.38 218.61" y="252.40" class="lg" font-size="11.2">clete</text>
<text x="333.02" y="200.30" class="lg" font-size="12.2" textLength="5.66" lengthAdjust="spacingAndGlyphs">C</text><text x="338.92" y="200.30" class="lg" font-size="12.2" textLength="5.66" lengthAdjust="spacingAndGlyphs">o</text><text x="344.82" y="200.30" class="lg" font-size="12.2" textLength="5.66" lengthAdjust="spacingAndGlyphs">n</text><text x="350.84 357.42 362.64 369.56 374.44" y="200.30" class="lg" font-size="12.2">crete</text>
<line x1="333.3" y1="209.2" x2="356.2" y2="209.2" stroke="#ff0000" stroke-width="1.0" stroke-dasharray="1.9 1.3"/>
<rect x="343.39" y="207.89" width="2.61" height="2.61" rx="0.6" fill="#ff0000"/>
<text x="380.62" y="213.00" class="lg" font-size="12.2" textLength="5.66" lengthAdjust="spacingAndGlyphs">g</text><text x="386.52" y="213.00" class="lg" font-size="12.2" textLength="5.66" lengthAdjust="spacingAndGlyphs">h</text><text x="363.38 369.96 375.86 393.56" y="213.00" class="lg" font-size="12.2">slit</text>
<line x1="333.3" y1="222.5" x2="356.2" y2="222.5" stroke="#ff0000" stroke-width="1.0" stroke-dasharray="1.9 1.3"/>
<circle cx="344.70" cy="222.50" r="1.44" fill="#ff0000"/>
<text x="362.92" y="226.30" class="lg" font-size="12.2" textLength="5.66" lengthAdjust="spacingAndGlyphs">m</text><text x="368.82" y="226.30" class="lg" font-size="12.2" textLength="5.66" lengthAdjust="spacingAndGlyphs">o</text><text x="374.72" y="226.30" class="lg" font-size="12.2" textLength="5.66" lengthAdjust="spacingAndGlyphs">d</text><text x="380.74 387.32 392.54 399.46 404.34" y="226.30" class="lg" font-size="12.2">erate</text>
<line x1="333.3" y1="236.1" x2="356.2" y2="236.1" stroke="#ff0000" stroke-width="1.0" stroke-dasharray="1.9 1.3"/>
<path d="M344.70 234.39L346.41 237.38L342.99 237.38Z" fill="#ff0000"/>
<text x="386.52" y="239.90" class="lg" font-size="12.2" textLength="5.66" lengthAdjust="spacingAndGlyphs">o</text><text x="392.42" y="239.90" class="lg" font-size="12.2" textLength="5.66" lengthAdjust="spacingAndGlyphs">u</text><text x="363.38 368.94 375.52 381.76 398.78" y="239.90" class="lg" font-size="12.2">seris</text>
<line x1="333.3" y1="249.3" x2="356.2" y2="249.3" stroke="#ff0000" stroke-width="1.0" stroke-dasharray="1.9 1.3"/>
<path d="M344.70 247.59L346.41 249.30L344.70 251.01L342.99 249.30Z" fill="#ff0000"/>
<text x="368.82" y="253.10" class="lg" font-size="12.2" textLength="5.66" lengthAdjust="spacingAndGlyphs">o</text><text x="374.72" y="253.10" class="lg" font-size="12.2" textLength="5.66" lengthAdjust="spacingAndGlyphs">m</text><text x="380.62" y="253.10" class="lg" font-size="12.2" textLength="5.66" lengthAdjust="spacingAndGlyphs">p</text><text x="363.04 387.66 392.54 399.46 404.34" y="253.10" class="lg" font-size="12.2">clete</text>
<text x="440.02" y="199.80" class="lg" font-size="12.2" textLength="5.55" lengthAdjust="spacingAndGlyphs">S</text><text x="480.48" y="199.80" class="lg" font-size="12.2" textLength="5.55" lengthAdjust="spacingAndGlyphs">o</text><text x="486.26" y="199.80" class="lg" font-size="12.2" textLength="5.55" lengthAdjust="spacingAndGlyphs">n</text><text x="446.88 451.64 457.42 464.22 469.66 474.76 492.10 498.56 503.66 510.46 515.22" y="199.80" class="lg" font-size="12.2">teel-ccrete</text>
<line x1="440.3" y1="208.7" x2="463.5" y2="208.7" stroke="#1b8fd6" stroke-width="1.0"/>
<rect x="450.19" y="207.39" width="2.61" height="2.61" rx="0.6" fill="#0072bd"/>
<text x="486.36" y="212.50" class="lg" font-size="12.2" textLength="5.55" lengthAdjust="spacingAndGlyphs">g</text><text x="492.14" y="212.50" class="lg" font-size="12.2" textLength="5.55" lengthAdjust="spacingAndGlyphs">h</text><text x="469.42 475.88 481.66 499.00" y="212.50" class="lg" font-size="12.2">slit</text>
<line x1="440.3" y1="221.3" x2="463.5" y2="221.3" stroke="#1b8fd6" stroke-width="1.0"/>
<circle cx="451.50" cy="221.30" r="1.44" fill="#0072bd"/>
<text x="469.02" y="225.10" class="lg" font-size="12.2" textLength="5.55" lengthAdjust="spacingAndGlyphs">m</text><text x="474.80" y="225.10" class="lg" font-size="12.2" textLength="5.55" lengthAdjust="spacingAndGlyphs">o</text><text x="480.58" y="225.10" class="lg" font-size="12.2" textLength="5.55" lengthAdjust="spacingAndGlyphs">d</text><text x="486.42 492.88 497.98 504.78 509.54" y="225.10" class="lg" font-size="12.2">erate</text>
<line x1="440.3" y1="234.2" x2="463.5" y2="234.2" stroke="#1b8fd6" stroke-width="1.0"/>
<path d="M451.50 232.49L453.21 235.48L449.79 235.48Z" fill="#0072bd"/>
<text x="492.14" y="238.00" class="lg" font-size="12.2" textLength="5.55" lengthAdjust="spacingAndGlyphs">o</text><text x="497.92" y="238.00" class="lg" font-size="12.2" textLength="5.55" lengthAdjust="spacingAndGlyphs">u</text><text x="469.42 474.86 481.32 487.44 504.10" y="238.00" class="lg" font-size="12.2">seris</text>
<line x1="440.3" y1="246.9" x2="463.5" y2="246.9" stroke="#1b8fd6" stroke-width="1.0"/>
<path d="M451.50 245.19L453.21 246.90L451.50 248.61L449.79 246.90Z" fill="#0072bd"/>
<text x="474.80" y="250.70" class="lg" font-size="12.2" textLength="5.55" lengthAdjust="spacingAndGlyphs">o</text><text x="480.58" y="250.70" class="lg" font-size="12.2" textLength="5.55" lengthAdjust="spacingAndGlyphs">m</text><text x="486.36" y="250.70" class="lg" font-size="12.2" textLength="5.55" lengthAdjust="spacingAndGlyphs">p</text><text x="469.08 493.22 497.98 504.78 509.54" y="250.70" class="lg" font-size="12.2">clete</text>
</svg>
</body></html>
